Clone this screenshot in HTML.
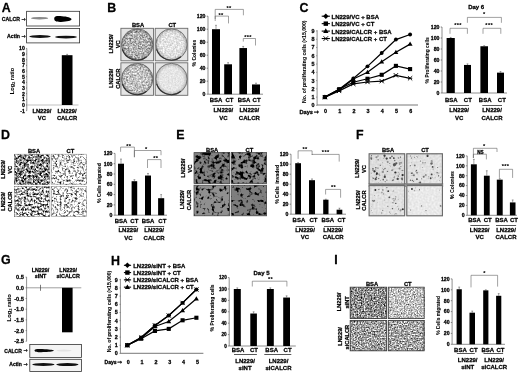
<!DOCTYPE html>
<html><head><meta charset="utf-8"><style>
html,body{margin:0;padding:0;background:#fff;}
svg{display:block;}
text{font-family:'Liberation Sans', Arial, sans-serif;stroke:#000;stroke-width:.26px;stroke-linejoin:round;}
.ar{font-family:'DejaVu Sans',sans-serif;}
</style></head><body>
<svg width="520" height="372" viewBox="0 0 520 372">
<defs><radialGradient id="rimg"><stop offset="0.75" stop-color="#000" stop-opacity="0"/><stop offset="1" stop-color="#000" stop-opacity="0.22"/></radialGradient>
<filter id="bp0" x="0" y="0" width="1" height="1" color-interpolation-filters="sRGB"><feTurbulence type="fractalNoise" baseFrequency="0.6" numOctaves="2" seed="11"/><feColorMatrix type="matrix" values="0.95 0 0 0 0.22 0.95 0 0 0 0.22 0.95 0 0 0 0.22 0 0 0 0 1"/></filter>
<clipPath id="cbp0"><circle cx="137.2" cy="44.55" r="15.7"/></clipPath>
<filter id="bp1" x="0" y="0" width="1" height="1" color-interpolation-filters="sRGB"><feTurbulence type="fractalNoise" baseFrequency="0.6" numOctaves="2" seed="12"/><feColorMatrix type="matrix" values="0.4 0 0 0 0.69 0.4 0 0 0 0.69 0.4 0 0 0 0.69 0 0 0 0 1"/></filter>
<clipPath id="cbp1"><circle cx="171.5" cy="44.55" r="15.7"/></clipPath>
<filter id="bp2" x="0" y="0" width="1" height="1" color-interpolation-filters="sRGB"><feTurbulence type="fractalNoise" baseFrequency="0.6" numOctaves="2" seed="13"/><feColorMatrix type="matrix" values="0.85 0 0 0 0.34 0.85 0 0 0 0.34 0.85 0 0 0 0.34 0 0 0 0 1"/></filter>
<clipPath id="cbp2"><circle cx="137.2" cy="79.05" r="15.7"/></clipPath>
<filter id="bp3" x="0" y="0" width="1" height="1" color-interpolation-filters="sRGB"><feTurbulence type="fractalNoise" baseFrequency="0.6" numOctaves="2" seed="14"/><feColorMatrix type="matrix" values="0.2 0 0 0 0.8 0.2 0 0 0 0.8 0.2 0 0 0 0.8 0 0 0 0 1"/></filter>
<clipPath id="cbp3"><circle cx="171.5" cy="79.05" r="15.7"/></clipPath>
<filter id="dd0" x="0" y="0" width="1" height="1" color-interpolation-filters="sRGB"><feTurbulence type="fractalNoise" baseFrequency="0.45" numOctaves="3" seed="21"/><feColorMatrix type="matrix" values="2.6 0 0 0 -0.76 2.6 0 0 0 -0.76 2.6 0 0 0 -0.76 0 0 0 0 1"/><feComponentTransfer><feFuncR type="linear" slope="1" intercept="0"/><feFuncG type="linear" slope="1" intercept="0"/><feFuncB type="linear" slope="1" intercept="0"/></feComponentTransfer></filter>
<filter id="dd1" x="0" y="0" width="1" height="1" color-interpolation-filters="sRGB"><feTurbulence type="fractalNoise" baseFrequency="0.45" numOctaves="3" seed="22"/><feColorMatrix type="matrix" values="2.6 0 0 0 -0.42 2.6 0 0 0 -0.42 2.6 0 0 0 -0.42 0 0 0 0 1"/><feComponentTransfer><feFuncR type="linear" slope="1" intercept="0"/><feFuncG type="linear" slope="1" intercept="0"/><feFuncB type="linear" slope="1" intercept="0"/></feComponentTransfer></filter>
<filter id="dd2" x="0" y="0" width="1" height="1" color-interpolation-filters="sRGB"><feTurbulence type="fractalNoise" baseFrequency="0.45" numOctaves="3" seed="23"/><feColorMatrix type="matrix" values="2.6 0 0 0 -0.6 2.6 0 0 0 -0.6 2.6 0 0 0 -0.6 0 0 0 0 1"/><feComponentTransfer><feFuncR type="linear" slope="1" intercept="0"/><feFuncG type="linear" slope="1" intercept="0"/><feFuncB type="linear" slope="1" intercept="0"/></feComponentTransfer></filter>
<filter id="dd3" x="0" y="0" width="1" height="1" color-interpolation-filters="sRGB"><feTurbulence type="fractalNoise" baseFrequency="0.45" numOctaves="3" seed="24"/><feColorMatrix type="matrix" values="2.6 0 0 0 -0.41 2.6 0 0 0 -0.41 2.6 0 0 0 -0.41 0 0 0 0 1"/><feComponentTransfer><feFuncR type="linear" slope="1" intercept="0"/><feFuncG type="linear" slope="1" intercept="0"/><feFuncB type="linear" slope="1" intercept="0"/></feComponentTransfer></filter>
<filter id="ee0" x="0" y="0" width="1" height="1" color-interpolation-filters="sRGB"><feTurbulence type="fractalNoise" baseFrequency="0.25" numOctaves="2" seed="31" result="a"/><feColorMatrix in="a" type="matrix" values="5 0 0 0 -1.67 5 0 0 0 -1.67 5 0 0 0 -1.67 0 0 0 0 1" result="m"/><feTurbulence type="fractalNoise" baseFrequency="1.0" numOctaves="2" seed="81" result="b"/><feColorMatrix in="b" type="matrix" values="0.55 0 0 0 0.24 0.55 0 0 0 0.24 0.55 0 0 0 0.24 0 0 0 0 1" result="g"/><feComposite in="m" in2="g" operator="arithmetic" k1="1" k2="0" k3="0" k4="0"/></filter>
<filter id="ee1" x="0" y="0" width="1" height="1" color-interpolation-filters="sRGB"><feTurbulence type="fractalNoise" baseFrequency="0.25" numOctaves="2" seed="32" result="a"/><feColorMatrix in="a" type="matrix" values="5 0 0 0 -1.62 5 0 0 0 -1.62 5 0 0 0 -1.62 0 0 0 0 1" result="m"/><feTurbulence type="fractalNoise" baseFrequency="1.0" numOctaves="2" seed="82" result="b"/><feColorMatrix in="b" type="matrix" values="0.55 0 0 0 0.28 0.55 0 0 0 0.28 0.55 0 0 0 0.28 0 0 0 0 1" result="g"/><feComposite in="m" in2="g" operator="arithmetic" k1="1" k2="0" k3="0" k4="0"/></filter>
<filter id="ee2" x="0" y="0" width="1" height="1" color-interpolation-filters="sRGB"><feTurbulence type="fractalNoise" baseFrequency="0.25" numOctaves="2" seed="33" result="a"/><feColorMatrix in="a" type="matrix" values="5 0 0 0 -1.35 5 0 0 0 -1.35 5 0 0 0 -1.35 0 0 0 0 1" result="m"/><feTurbulence type="fractalNoise" baseFrequency="1.0" numOctaves="2" seed="83" result="b"/><feColorMatrix in="b" type="matrix" values="0.55 0 0 0 0.29 0.55 0 0 0 0.29 0.55 0 0 0 0.29 0 0 0 0 1" result="g"/><feComposite in="m" in2="g" operator="arithmetic" k1="1" k2="0" k3="0" k4="0"/></filter>
<filter id="ee3" x="0" y="0" width="1" height="1" color-interpolation-filters="sRGB"><feTurbulence type="fractalNoise" baseFrequency="0.25" numOctaves="2" seed="34" result="a"/><feColorMatrix in="a" type="matrix" values="5 0 0 0 -1.3 5 0 0 0 -1.3 5 0 0 0 -1.3 0 0 0 0 1" result="m"/><feTurbulence type="fractalNoise" baseFrequency="1.0" numOctaves="2" seed="84" result="b"/><feColorMatrix in="b" type="matrix" values="0.55 0 0 0 0.22 0.55 0 0 0 0.22 0.55 0 0 0 0.22 0 0 0 0 1" result="g"/><feComposite in="m" in2="g" operator="arithmetic" k1="1" k2="0" k3="0" k4="0"/></filter>
<filter id="ff0" x="0" y="0" width="1" height="1" color-interpolation-filters="sRGB"><feTurbulence type="fractalNoise" baseFrequency="0.5" numOctaves="2" seed="41"/><feColorMatrix type="matrix" values="0.15 0 0 0 0.79 0.15 0 0 0 0.79 0.15 0 0 0 0.79 0 0 0 0 1"/></filter>
<filter id="ff1" x="0" y="0" width="1" height="1" color-interpolation-filters="sRGB"><feTurbulence type="fractalNoise" baseFrequency="0.5" numOctaves="2" seed="42"/><feColorMatrix type="matrix" values="0.15 0 0 0 0.81 0.15 0 0 0 0.81 0.15 0 0 0 0.81 0 0 0 0 1"/></filter>
<filter id="ff2" x="0" y="0" width="1" height="1" color-interpolation-filters="sRGB"><feTurbulence type="fractalNoise" baseFrequency="0.5" numOctaves="2" seed="43"/><feColorMatrix type="matrix" values="0.15 0 0 0 0.81 0.15 0 0 0 0.81 0.15 0 0 0 0.81 0 0 0 0 1"/></filter>
<filter id="ff3" x="0" y="0" width="1" height="1" color-interpolation-filters="sRGB"><feTurbulence type="fractalNoise" baseFrequency="0.5" numOctaves="2" seed="44"/><feColorMatrix type="matrix" values="0.15 0 0 0 0.84 0.15 0 0 0 0.84 0.15 0 0 0 0.84 0 0 0 0 1"/></filter>
<filter id="ii0" x="0" y="0" width="1" height="1" color-interpolation-filters="sRGB"><feTurbulence type="fractalNoise" baseFrequency="0.7" numOctaves="2" seed="61"/><feColorMatrix type="matrix" values="1.6 0 0 0 -0.24 1.6 0 0 0 -0.24 1.6 0 0 0 -0.24 0 0 0 0 1"/></filter>
<filter id="ii1" x="0" y="0" width="1" height="1" color-interpolation-filters="sRGB"><feTurbulence type="fractalNoise" baseFrequency="0.7" numOctaves="2" seed="62"/><feColorMatrix type="matrix" values="1.3 0 0 0 0.11 1.3 0 0 0 0.11 1.3 0 0 0 0.11 0 0 0 0 1"/></filter>
<filter id="ii2" x="0" y="0" width="1" height="1" color-interpolation-filters="sRGB"><feTurbulence type="fractalNoise" baseFrequency="0.7" numOctaves="2" seed="63"/><feColorMatrix type="matrix" values="1.5 0 0 0 -0.12 1.5 0 0 0 -0.12 1.5 0 0 0 -0.12 0 0 0 0 1"/></filter>
<filter id="ii3" x="0" y="0" width="1" height="1" color-interpolation-filters="sRGB"><feTurbulence type="fractalNoise" baseFrequency="0.7" numOctaves="2" seed="64"/><feColorMatrix type="matrix" values="1.5 0 0 0 -0.1 1.5 0 0 0 -0.1 1.5 0 0 0 -0.1 0 0 0 0 1"/></filter></defs>
<rect width="520" height="372" fill="#fff"/>
<text x="1.7" y="11.7" font-size="12.4" text-anchor="start" font-weight="bold" fill="#000">A</text>
<text x="107.3" y="11.6" font-size="12.4" text-anchor="start" font-weight="bold" fill="#000">B</text>
<text x="299.6" y="11.9" font-size="12.4" text-anchor="start" font-weight="bold" fill="#000">C</text>
<text x="1.1" y="139.1" font-size="12.4" text-anchor="start" font-weight="bold" fill="#000">D</text>
<text x="176.3" y="139.2" font-size="12.4" text-anchor="start" font-weight="bold" fill="#000">E</text>
<text x="356" y="139.4" font-size="12.4" text-anchor="start" font-weight="bold" fill="#000">F</text>
<text x="0.9" y="264.2" font-size="12.4" text-anchor="start" font-weight="bold" fill="#000">G</text>
<text x="111" y="264.6" font-size="12.4" text-anchor="start" font-weight="bold" fill="#000">H</text>
<text x="334.3" y="264.3" font-size="12.4" text-anchor="start" font-weight="bold" fill="#000">I</text>
<rect x="26.6" y="11.3" width="53" height="14.7" fill="#fff" stroke="#333" stroke-width="0.8"/>
<rect x="26.6" y="28.4" width="53" height="14.5" fill="#fbfbfb" stroke="#333" stroke-width="0.8"/>
<text x="20" y="21.2" font-size="5.2" text-anchor="end" font-weight="bold" fill="#000">CALCR</text>
<text x="20" y="38" font-size="5.2" text-anchor="end" font-weight="bold" fill="#000">Actin</text>
<text x="23.5" y="21" font-size="5" text-anchor="middle" font-weight="bold" fill="#000" class="ar">→</text>
<text x="23.5" y="37.8" font-size="5" text-anchor="middle" font-weight="bold" fill="#000" class="ar">→</text>
<ellipse cx="39.6" cy="18.2" rx="8.6" ry="1.3" fill="#8a8a8a"/>
<path d="M54.2 18.6 C54.2 15.6 58 16.0 62 16.2 C67 16.5 71.5 17.6 71.5 19.2 C71.5 20.6 67 21.6 61 21.9 C56 22.0 54.2 21.2 54.2 18.6Z" fill="#000"/>
<ellipse cx="40" cy="36.5" rx="10.8" ry="1.4" fill="#111"/>
<ellipse cx="66" cy="37.1" rx="11" ry="1.4" fill="#111"/>
<line x1="26.8" y1="48.4" x2="26.8" y2="110.66" stroke="#444" stroke-width="0.6"/>
<line x1="26" y1="110.66" x2="26.8" y2="110.66" stroke="#444" stroke-width="0.6"/>
<text x="24.8" y="112.53" font-size="5.2" text-anchor="end" font-weight="bold" fill="#000">-1</text>
<line x1="26" y1="105" x2="26.8" y2="105" stroke="#444" stroke-width="0.6"/>
<text x="24.8" y="106.87" font-size="5.2" text-anchor="end" font-weight="bold" fill="#000">0</text>
<line x1="26" y1="99.34" x2="26.8" y2="99.34" stroke="#444" stroke-width="0.6"/>
<text x="24.8" y="101.21" font-size="5.2" text-anchor="end" font-weight="bold" fill="#000">1</text>
<line x1="26" y1="93.68" x2="26.8" y2="93.68" stroke="#444" stroke-width="0.6"/>
<text x="24.8" y="95.55" font-size="5.2" text-anchor="end" font-weight="bold" fill="#000">2</text>
<line x1="26" y1="88.02" x2="26.8" y2="88.02" stroke="#444" stroke-width="0.6"/>
<text x="24.8" y="89.89" font-size="5.2" text-anchor="end" font-weight="bold" fill="#000">3</text>
<line x1="26" y1="82.36" x2="26.8" y2="82.36" stroke="#444" stroke-width="0.6"/>
<text x="24.8" y="84.23" font-size="5.2" text-anchor="end" font-weight="bold" fill="#000">4</text>
<line x1="26" y1="76.7" x2="26.8" y2="76.7" stroke="#444" stroke-width="0.6"/>
<text x="24.8" y="78.57" font-size="5.2" text-anchor="end" font-weight="bold" fill="#000">5</text>
<line x1="26" y1="71.04" x2="26.8" y2="71.04" stroke="#444" stroke-width="0.6"/>
<text x="24.8" y="72.91" font-size="5.2" text-anchor="end" font-weight="bold" fill="#000">6</text>
<line x1="26" y1="65.38" x2="26.8" y2="65.38" stroke="#444" stroke-width="0.6"/>
<text x="24.8" y="67.25" font-size="5.2" text-anchor="end" font-weight="bold" fill="#000">7</text>
<line x1="26" y1="59.72" x2="26.8" y2="59.72" stroke="#444" stroke-width="0.6"/>
<text x="24.8" y="61.59" font-size="5.2" text-anchor="end" font-weight="bold" fill="#000">8</text>
<line x1="26" y1="54.06" x2="26.8" y2="54.06" stroke="#444" stroke-width="0.6"/>
<text x="24.8" y="55.93" font-size="5.2" text-anchor="end" font-weight="bold" fill="#000">9</text>
<line x1="26" y1="48.4" x2="26.8" y2="48.4" stroke="#444" stroke-width="0.6"/>
<text x="24.8" y="50.27" font-size="5.2" text-anchor="end" font-weight="bold" fill="#000">10</text>
<line x1="26.8" y1="105" x2="78.5" y2="105" stroke="#999" stroke-width="0.6"/>
<rect x="61.8" y="55.19" width="10.7" height="49.81" fill="#000"/>
<line x1="67.15" y1="55.19" x2="67.15" y2="54.34" stroke="#333" stroke-width="0.45"/>
<line x1="66.25" y1="54.34" x2="68.05" y2="54.34" stroke="#333" stroke-width="0.45"/>
<text x="14.05" y="81" font-size="5.7" text-anchor="middle" font-weight="bold" fill="#000" transform="rotate(-90 14.05 81)" style="stroke-width:.08px">Log<tspan font-size="3.6" dy="1.2">2</tspan><tspan dy="-1.2"> ratio</tspan></text>
<text x="41.9" y="112.5" font-size="5.8" text-anchor="middle" font-weight="bold" fill="#000">LN229/</text>
<text x="41.9" y="119.6" font-size="5.8" text-anchor="middle" font-weight="bold" fill="#000">VC</text>
<text x="67.1" y="112.5" font-size="5.8" text-anchor="middle" font-weight="bold" fill="#000">LN229/</text>
<text x="67.1" y="119.6" font-size="5.8" text-anchor="middle" font-weight="bold" fill="#000">CALCR</text>
<rect x="120.9" y="28.3" width="32.6" height="32.5" fill="#e4e4e4" stroke="#6a6a6a" stroke-width="0.9"/>
<rect x="121.5" y="28.85" width="31.4" height="31.4" filter="url(#bp0)" clip-path="url(#cbp0)"/>
<circle cx="137.2" cy="44.55" r="15.7" fill="url(#rimg)"/>
<circle cx="137.2" cy="44.55" r="15.7" fill="none" stroke="#555" stroke-width="0.7"/>
<path d="M122.29 49.26 A15.4 15.4 0 0 0 146.62 56.8" fill="none" stroke="#333" stroke-width="1.1"/>
<rect x="155.2" y="28.3" width="32.6" height="32.5" fill="#e4e4e4" stroke="#6a6a6a" stroke-width="0.9"/>
<rect x="155.8" y="28.85" width="31.4" height="31.4" filter="url(#bp1)" clip-path="url(#cbp1)"/>
<circle cx="171.5" cy="44.55" r="15.7" fill="url(#rimg)"/>
<circle cx="171.5" cy="44.55" r="15.7" fill="none" stroke="#555" stroke-width="0.7"/>
<path d="M156.59 49.26 A15.4 15.4 0 0 0 180.92 56.8" fill="none" stroke="#333" stroke-width="1.1"/>
<rect x="120.9" y="62.8" width="32.6" height="32.5" fill="#e4e4e4" stroke="#6a6a6a" stroke-width="0.9"/>
<rect x="121.5" y="63.35" width="31.4" height="31.4" filter="url(#bp2)" clip-path="url(#cbp2)"/>
<circle cx="137.2" cy="79.05" r="15.7" fill="url(#rimg)"/>
<circle cx="137.2" cy="79.05" r="15.7" fill="none" stroke="#555" stroke-width="0.7"/>
<path d="M122.29 83.76 A15.4 15.4 0 0 0 146.62 91.3" fill="none" stroke="#333" stroke-width="1.1"/>
<rect x="155.2" y="62.8" width="32.6" height="32.5" fill="#e4e4e4" stroke="#6a6a6a" stroke-width="0.9"/>
<rect x="155.8" y="63.35" width="31.4" height="31.4" filter="url(#bp3)" clip-path="url(#cbp3)"/>
<circle cx="171.5" cy="79.05" r="15.7" fill="url(#rimg)"/>
<circle cx="171.5" cy="79.05" r="15.7" fill="none" stroke="#555" stroke-width="0.7"/>
<path d="M156.59 83.76 A15.4 15.4 0 0 0 180.92 91.3" fill="none" stroke="#333" stroke-width="1.1"/>
<text x="112.79" y="44" font-size="5.8" text-anchor="middle" font-weight="bold" fill="#000" transform="rotate(-90 112.79 44)">LN229/</text>
<text x="119.79" y="44.3" font-size="5.8" text-anchor="middle" font-weight="bold" fill="#000" transform="rotate(-90 119.79 44.3)">VC</text>
<text x="112.99" y="78.4" font-size="5.8" text-anchor="middle" font-weight="bold" fill="#000" transform="rotate(-90 112.99 78.4)">LN229/</text>
<text x="119.79" y="78.7" font-size="5.8" text-anchor="middle" font-weight="bold" fill="#000" transform="rotate(-90 119.79 78.7)">CALCR</text>
<line x1="208" y1="16.2" x2="208" y2="94.2" stroke="#444" stroke-width="0.6"/>
<line x1="206.7" y1="94.2" x2="208" y2="94.2" stroke="#444" stroke-width="0.6"/>
<text x="205.5" y="96.07" font-size="5.2" text-anchor="end" font-weight="bold" fill="#000">0</text>
<line x1="206.7" y1="81.2" x2="208" y2="81.2" stroke="#444" stroke-width="0.6"/>
<text x="205.5" y="83.07" font-size="5.2" text-anchor="end" font-weight="bold" fill="#000">20</text>
<line x1="206.7" y1="68.2" x2="208" y2="68.2" stroke="#444" stroke-width="0.6"/>
<text x="205.5" y="70.07" font-size="5.2" text-anchor="end" font-weight="bold" fill="#000">40</text>
<line x1="206.7" y1="55.2" x2="208" y2="55.2" stroke="#444" stroke-width="0.6"/>
<text x="205.5" y="57.07" font-size="5.2" text-anchor="end" font-weight="bold" fill="#000">60</text>
<line x1="206.7" y1="42.2" x2="208" y2="42.2" stroke="#444" stroke-width="0.6"/>
<text x="205.5" y="44.07" font-size="5.2" text-anchor="end" font-weight="bold" fill="#000">80</text>
<line x1="206.7" y1="29.2" x2="208" y2="29.2" stroke="#444" stroke-width="0.6"/>
<text x="205.5" y="31.07" font-size="5.2" text-anchor="end" font-weight="bold" fill="#000">100</text>
<line x1="206.7" y1="16.2" x2="208" y2="16.2" stroke="#444" stroke-width="0.6"/>
<text x="205.5" y="18.07" font-size="5.2" text-anchor="end" font-weight="bold" fill="#000">120</text>
<line x1="208" y1="94.2" x2="263" y2="94.2" stroke="#444" stroke-width="0.6"/>
<rect x="212" y="29.2" width="8" height="65" fill="#000"/>
<line x1="216" y1="29.2" x2="216" y2="25.3" stroke="#333" stroke-width="0.45"/>
<line x1="215.1" y1="25.3" x2="216.9" y2="25.3" stroke="#333" stroke-width="0.45"/>
<rect x="224.2" y="64.3" width="7.8" height="29.9" fill="#000"/>
<line x1="228.1" y1="64.3" x2="228.1" y2="62.67" stroke="#333" stroke-width="0.45"/>
<line x1="227.2" y1="62.67" x2="229" y2="62.67" stroke="#333" stroke-width="0.45"/>
<rect x="239.4" y="48.05" width="7.6" height="46.15" fill="#000"/>
<line x1="243.2" y1="48.05" x2="243.2" y2="46.43" stroke="#333" stroke-width="0.45"/>
<line x1="242.3" y1="46.43" x2="244.1" y2="46.43" stroke="#333" stroke-width="0.45"/>
<rect x="252" y="84.45" width="8" height="9.75" fill="#000"/>
<line x1="256" y1="84.45" x2="256" y2="83.15" stroke="#333" stroke-width="0.45"/>
<line x1="255.1" y1="83.15" x2="256.9" y2="83.15" stroke="#333" stroke-width="0.45"/>
<text x="195.86" y="53" font-size="4.9" text-anchor="middle" font-weight="bold" fill="#000" transform="rotate(-90 195.86 53)" style="stroke-width:.08px">% Colonies</text>
<text x="216" y="102.3" font-size="6" text-anchor="middle" font-weight="bold" fill="#000">BSA</text>
<text x="229.4" y="102.3" font-size="6" text-anchor="middle" font-weight="bold" fill="#000">CT</text>
<text x="244" y="102.3" font-size="6" text-anchor="middle" font-weight="bold" fill="#000">BSA</text>
<text x="256.6" y="102.3" font-size="6" text-anchor="middle" font-weight="bold" fill="#000">CT</text>
<line x1="212.5" y1="105.5" x2="232.7" y2="105.5" stroke="#444" stroke-width="0.9"/>
<line x1="239.6" y1="105.5" x2="260.4" y2="105.5" stroke="#444" stroke-width="0.9"/>
<text x="223.3" y="112.1" font-size="6" text-anchor="middle" font-weight="bold" fill="#000">LN229/</text>
<text x="223.3" y="119.6" font-size="6" text-anchor="middle" font-weight="bold" fill="#000">VC</text>
<text x="249.3" y="112.1" font-size="6" text-anchor="middle" font-weight="bold" fill="#000">LN229/</text>
<text x="249.3" y="119.6" font-size="6" text-anchor="middle" font-weight="bold" fill="#000">CALCR</text>
<path d="M215.2 21V9.4H243.4V15.3" fill="none" stroke="#555" stroke-width="0.55"/>
<text x="229.1" y="10.21" font-size="5.6" text-anchor="middle" font-weight="bold" fill="#000" style="stroke-width:.12px;letter-spacing:.4px">**</text>
<path d="M215.2 19V16.1H228.5V23.4" fill="none" stroke="#555" stroke-width="0.55"/>
<text x="221" y="17.01" font-size="5.6" text-anchor="middle" font-weight="bold" fill="#000" style="stroke-width:.12px;letter-spacing:.4px">**</text>
<path d="M243.3 41.6V38.5H255.5V45.5" fill="none" stroke="#555" stroke-width="0.55"/>
<text x="248.1" y="39.01" font-size="5.6" text-anchor="middle" font-weight="bold" fill="#000" style="stroke-width:.12px;letter-spacing:.4px">***</text>
<line x1="317.1" y1="30.14" x2="317.1" y2="105.4" stroke="#444" stroke-width="0.6"/>
<line x1="316.3" y1="105.4" x2="317.1" y2="105.4" stroke="#444" stroke-width="0.6"/>
<text x="314.5" y="107.34" font-size="5.4" text-anchor="end" font-weight="bold" fill="#000">0</text>
<line x1="316.3" y1="97.13" x2="317.1" y2="97.13" stroke="#444" stroke-width="0.6"/>
<text x="314.5" y="99.07" font-size="5.4" text-anchor="end" font-weight="bold" fill="#000">1</text>
<line x1="316.3" y1="88.86" x2="317.1" y2="88.86" stroke="#444" stroke-width="0.6"/>
<text x="314.5" y="90.8" font-size="5.4" text-anchor="end" font-weight="bold" fill="#000">2</text>
<line x1="316.3" y1="80.59" x2="317.1" y2="80.59" stroke="#444" stroke-width="0.6"/>
<text x="314.5" y="82.53" font-size="5.4" text-anchor="end" font-weight="bold" fill="#000">3</text>
<line x1="316.3" y1="72.32" x2="317.1" y2="72.32" stroke="#444" stroke-width="0.6"/>
<text x="314.5" y="74.26" font-size="5.4" text-anchor="end" font-weight="bold" fill="#000">4</text>
<line x1="316.3" y1="64.05" x2="317.1" y2="64.05" stroke="#444" stroke-width="0.6"/>
<text x="314.5" y="65.99" font-size="5.4" text-anchor="end" font-weight="bold" fill="#000">5</text>
<line x1="316.3" y1="55.78" x2="317.1" y2="55.78" stroke="#444" stroke-width="0.6"/>
<text x="314.5" y="57.72" font-size="5.4" text-anchor="end" font-weight="bold" fill="#000">6</text>
<line x1="316.3" y1="47.51" x2="317.1" y2="47.51" stroke="#444" stroke-width="0.6"/>
<text x="314.5" y="49.45" font-size="5.4" text-anchor="end" font-weight="bold" fill="#000">7</text>
<line x1="316.3" y1="39.24" x2="317.1" y2="39.24" stroke="#444" stroke-width="0.6"/>
<text x="314.5" y="41.18" font-size="5.4" text-anchor="end" font-weight="bold" fill="#000">8</text>
<line x1="316.3" y1="30.97" x2="317.1" y2="30.97" stroke="#444" stroke-width="0.6"/>
<text x="314.5" y="32.91" font-size="5.4" text-anchor="end" font-weight="bold" fill="#000">9</text>
<line x1="317.1" y1="105" x2="418" y2="105" stroke="#555" stroke-width="0.8"/>
<text x="325.5" y="113.4" font-size="5.4" text-anchor="middle" font-weight="bold" fill="#000">0</text>
<text x="339.7" y="113.4" font-size="5.4" text-anchor="middle" font-weight="bold" fill="#000">1</text>
<text x="353.9" y="113.4" font-size="5.4" text-anchor="middle" font-weight="bold" fill="#000">2</text>
<text x="368.1" y="113.4" font-size="5.4" text-anchor="middle" font-weight="bold" fill="#000">3</text>
<text x="382.3" y="113.4" font-size="5.4" text-anchor="middle" font-weight="bold" fill="#000">4</text>
<text x="396.5" y="113.4" font-size="5.4" text-anchor="middle" font-weight="bold" fill="#000">5</text>
<text x="410.7" y="113.4" font-size="5.4" text-anchor="middle" font-weight="bold" fill="#000">6</text>
<text x="313" y="113.6" font-size="5.7" text-anchor="end" font-weight="bold" fill="#000">Days</text>
<text x="316.3" y="114.1" font-size="6.2" text-anchor="middle" font-weight="bold" fill="#000" class="ar">→</text>
<text x="306.15" y="61.7" font-size="5.15" text-anchor="middle" font-weight="bold" fill="#000" transform="rotate(-90 306.15 61.7)" style="stroke-width:.08px">No. of proliferating cells (×15,000)</text>
<polyline points="324.9,97.13 339.1,89.27 353.3,78.52 367.5,66.37 381.7,52.97 395.9,39.57 410.1,34.53" fill="none" stroke="#000" stroke-width="1.25"/>
<circle cx="324.9" cy="97.13" r="1.95"/>
<circle cx="339.1" cy="89.27" r="1.95"/>
<circle cx="353.3" cy="78.52" r="1.95"/>
<circle cx="367.5" cy="66.37" r="1.95"/>
<circle cx="381.7" cy="52.97" r="1.95"/>
<circle cx="395.9" cy="39.57" r="1.95"/>
<circle cx="410.1" cy="34.53" r="1.95"/>
<polyline points="324.9,97.13 339.1,90.1 353.3,78.94 367.5,72.32 381.7,61.82 395.9,52.22 410.1,44.12" fill="none" stroke="#000" stroke-width="1.25"/>
<path d="M324.9 94.6L327.34 98.89L322.46 98.89Z"/>
<path d="M339.1 87.57L341.54 91.86L336.66 91.86Z"/>
<path d="M353.3 76.4L355.74 80.69L350.86 80.69Z"/>
<path d="M367.5 69.79L369.94 74.08L365.06 74.08Z"/>
<path d="M381.7 59.28L384.14 63.57L379.26 63.57Z"/>
<path d="M395.9 49.69L398.34 53.98L393.46 53.98Z"/>
<path d="M410.1 41.58L412.54 45.87L407.66 45.87Z"/>
<polyline points="324.9,97.13 339.1,89.27 353.3,82.24 367.5,78.77 381.7,74.8 395.9,65.87 410.1,69.09" fill="none" stroke="#000" stroke-width="1.25"/>
<rect x="322.85" y="95.08" width="4.09" height="4.09" fill="#000"/>
<rect x="337.05" y="87.23" width="4.09" height="4.09" fill="#000"/>
<rect x="351.25" y="80.2" width="4.09" height="4.09" fill="#000"/>
<rect x="365.45" y="76.72" width="4.09" height="4.09" fill="#000"/>
<rect x="379.65" y="72.75" width="4.09" height="4.09" fill="#000"/>
<rect x="393.85" y="63.82" width="4.09" height="4.09" fill="#000"/>
<rect x="408.05" y="67.05" width="4.09" height="4.09" fill="#000"/>
<polyline points="324.9,97.13 339.1,90.93 353.3,83.9 367.5,82 381.7,81.17 395.9,75.3 410.1,78.27" fill="none" stroke="#000" stroke-width="1.25"/>
<path d="M322.75 94.99L327.04 99.28M322.75 99.28L327.04 94.99M322.75 97.13L327.04 97.13" fill="none" stroke="#000" stroke-width="0.95"/>
<path d="M336.95 88.78L341.24 93.07M336.95 93.07L341.24 88.78M336.95 90.93L341.24 90.93" fill="none" stroke="#000" stroke-width="0.95"/>
<path d="M351.15 81.75L355.44 86.04M351.15 86.04L355.44 81.75M351.15 83.9L355.44 83.9" fill="none" stroke="#000" stroke-width="0.95"/>
<path d="M365.36 79.85L369.64 84.14M365.36 84.14L369.64 79.85M365.36 82L369.64 82" fill="none" stroke="#000" stroke-width="0.95"/>
<path d="M379.56 79.02L383.84 83.31M379.56 83.31L383.84 79.02M379.56 81.17L383.84 81.17" fill="none" stroke="#000" stroke-width="0.95"/>
<path d="M393.75 73.15L398.04 77.44M393.75 77.44L398.04 73.15M393.75 75.3L398.04 75.3" fill="none" stroke="#000" stroke-width="0.95"/>
<path d="M407.95 76.13L412.24 80.42M407.95 80.42L412.24 76.13M407.95 78.27L412.24 78.27" fill="none" stroke="#000" stroke-width="0.95"/>
<line x1="321.7" y1="16.2" x2="329.9" y2="16.2" stroke="#000" stroke-width="1.1"/>
<path d="M325.8 13.47L328.53 16.2L325.8 18.93L323.07 16.2Z"/>
<text x="331.5" y="18.6" font-size="6" text-anchor="start" font-weight="bold" fill="#000">LN229/VC + BSA</text>
<line x1="321.7" y1="23.65" x2="329.9" y2="23.65" stroke="#000" stroke-width="1.1"/>
<rect x="323.6" y="21.45" width="4.41" height="4.41" fill="#000"/>
<text x="331.5" y="26.05" font-size="6" text-anchor="start" font-weight="bold" fill="#000">LN229/VC + CT</text>
<line x1="321.7" y1="31.1" x2="329.9" y2="31.1" stroke="#000" stroke-width="1.1"/>
<path d="M325.8 28.37L328.43 32.99L323.18 32.99Z"/>
<text x="331.5" y="33.5" font-size="6" text-anchor="start" font-weight="bold" fill="#000">LN229/CALCR + BSA</text>
<line x1="321.7" y1="38.55" x2="329.9" y2="38.55" stroke="#000" stroke-width="1.1"/>
<path d="M323.49 36.24L328.11 40.86M323.49 40.86L328.11 36.24M323.49 38.55L328.11 38.55" fill="none" stroke="#000" stroke-width="0.95"/>
<text x="331.5" y="40.95" font-size="6" text-anchor="start" font-weight="bold" fill="#000">LN229/CALCR + CT</text>
<line x1="442" y1="27" x2="442" y2="93" stroke="#444" stroke-width="0.6"/>
<line x1="440.7" y1="93" x2="442" y2="93" stroke="#444" stroke-width="0.6"/>
<text x="439.5" y="94.87" font-size="5.2" text-anchor="end" font-weight="bold" fill="#000">0</text>
<line x1="440.7" y1="82" x2="442" y2="82" stroke="#444" stroke-width="0.6"/>
<text x="439.5" y="83.87" font-size="5.2" text-anchor="end" font-weight="bold" fill="#000">20</text>
<line x1="440.7" y1="71" x2="442" y2="71" stroke="#444" stroke-width="0.6"/>
<text x="439.5" y="72.87" font-size="5.2" text-anchor="end" font-weight="bold" fill="#000">40</text>
<line x1="440.7" y1="60" x2="442" y2="60" stroke="#444" stroke-width="0.6"/>
<text x="439.5" y="61.87" font-size="5.2" text-anchor="end" font-weight="bold" fill="#000">60</text>
<line x1="440.7" y1="49" x2="442" y2="49" stroke="#444" stroke-width="0.6"/>
<text x="439.5" y="50.87" font-size="5.2" text-anchor="end" font-weight="bold" fill="#000">80</text>
<line x1="440.7" y1="38" x2="442" y2="38" stroke="#444" stroke-width="0.6"/>
<text x="439.5" y="39.87" font-size="5.2" text-anchor="end" font-weight="bold" fill="#000">100</text>
<line x1="440.7" y1="27" x2="442" y2="27" stroke="#444" stroke-width="0.6"/>
<text x="439.5" y="28.87" font-size="5.2" text-anchor="end" font-weight="bold" fill="#000">120</text>
<line x1="442" y1="93" x2="507" y2="93" stroke="#444" stroke-width="0.6"/>
<rect x="446.6" y="38" width="8.2" height="55" fill="#000"/>
<line x1="450.7" y1="38" x2="450.7" y2="37.45" stroke="#333" stroke-width="0.45"/>
<line x1="449.8" y1="37.45" x2="451.6" y2="37.45" stroke="#333" stroke-width="0.45"/>
<rect x="464" y="64.95" width="7" height="28.05" fill="#000"/>
<line x1="467.5" y1="64.95" x2="467.5" y2="63.85" stroke="#333" stroke-width="0.45"/>
<line x1="466.6" y1="63.85" x2="468.4" y2="63.85" stroke="#333" stroke-width="0.45"/>
<rect x="480.4" y="46.25" width="7.6" height="46.75" fill="#000"/>
<line x1="484.2" y1="46.25" x2="484.2" y2="45.7" stroke="#333" stroke-width="0.45"/>
<line x1="483.3" y1="45.7" x2="485.1" y2="45.7" stroke="#333" stroke-width="0.45"/>
<rect x="497" y="72.65" width="7" height="20.35" fill="#000"/>
<line x1="500.5" y1="72.65" x2="500.5" y2="71.55" stroke="#333" stroke-width="0.45"/>
<line x1="499.6" y1="71.55" x2="501.4" y2="71.55" stroke="#333" stroke-width="0.45"/>
<text x="476.2" y="9.4" font-size="6" text-anchor="middle" font-weight="bold" fill="#000">Day 6</text>
<path d="M467.4 22.8V17.4H501.4V22.8" fill="none" stroke="#555" stroke-width="0.55"/>
<text x="484.3" y="15.51" font-size="5.6" text-anchor="middle" font-weight="bold" fill="#000" style="stroke-width:.12px;letter-spacing:.4px">*</text>
<path d="M450 33.8V28.3H467.4V33.8" fill="none" stroke="#555" stroke-width="0.55"/>
<text x="458.1" y="26.61" font-size="5.6" text-anchor="middle" font-weight="bold" fill="#000" style="stroke-width:.12px;letter-spacing:.4px">***</text>
<path d="M483 33.8V28.3H500.8V33.8" fill="none" stroke="#555" stroke-width="0.55"/>
<text x="489.2" y="26.61" font-size="5.6" text-anchor="middle" font-weight="bold" fill="#000" style="stroke-width:.12px;letter-spacing:.4px">***</text>
<text x="428.53" y="60.2" font-size="4.8" text-anchor="middle" font-weight="bold" fill="#000" transform="rotate(-90 428.53 60.2)" style="stroke-width:.08px">% Proliferating cells</text>
<text x="451.3" y="102.2" font-size="6" text-anchor="middle" font-weight="bold" fill="#000">BSA</text>
<text x="467.8" y="102.2" font-size="6" text-anchor="middle" font-weight="bold" fill="#000">CT</text>
<text x="485.2" y="102.2" font-size="6" text-anchor="middle" font-weight="bold" fill="#000">BSA</text>
<text x="501.8" y="102.2" font-size="6" text-anchor="middle" font-weight="bold" fill="#000">CT</text>
<line x1="449.3" y1="105.5" x2="469" y2="105.5" stroke="#444" stroke-width="0.9"/>
<line x1="482.3" y1="105.5" x2="502" y2="105.5" stroke="#444" stroke-width="0.9"/>
<text x="459.2" y="112.4" font-size="6" text-anchor="middle" font-weight="bold" fill="#000">LN229/</text>
<text x="459.2" y="119.8" font-size="6" text-anchor="middle" font-weight="bold" fill="#000">VC</text>
<text x="492" y="112.4" font-size="6" text-anchor="middle" font-weight="bold" fill="#000">LN229/</text>
<text x="492" y="119.8" font-size="6" text-anchor="middle" font-weight="bold" fill="#000">CALCR</text>
<rect x="14.8" y="154.2" width="35.1" height="30" filter="url(#dd0)"/>
<rect x="14.8" y="154.2" width="35.1" height="30" fill="none" stroke="#999" stroke-width="0.6"/>
<rect x="51.5" y="154.2" width="35.1" height="30" filter="url(#dd1)"/>
<rect x="51.5" y="154.2" width="35.1" height="30" fill="none" stroke="#999" stroke-width="0.6"/>
<rect x="14.8" y="186.6" width="35.1" height="30" filter="url(#dd2)"/>
<rect x="14.8" y="186.6" width="35.1" height="30" fill="none" stroke="#999" stroke-width="0.6"/>
<rect x="51.5" y="186.6" width="35.1" height="30" filter="url(#dd3)"/>
<rect x="51.5" y="186.6" width="35.1" height="30" fill="none" stroke="#999" stroke-width="0.6"/>
<text x="4.65" y="169.4" font-size="5.7" text-anchor="middle" font-weight="bold" fill="#000" transform="rotate(-90 4.65 169.4)">LN229/</text>
<text x="11.75" y="169.8" font-size="5.7" text-anchor="middle" font-weight="bold" fill="#000" transform="rotate(-90 11.75 169.8)">VC</text>
<text x="5.05" y="201.4" font-size="5.7" text-anchor="middle" font-weight="bold" fill="#000" transform="rotate(-90 5.05 201.4)">LN229/</text>
<text x="12.05" y="201.6" font-size="5.7" text-anchor="middle" font-weight="bold" fill="#000" transform="rotate(-90 12.05 201.6)">CALCR</text>
<line x1="115" y1="153.4" x2="115" y2="215.2" stroke="#444" stroke-width="0.6"/>
<line x1="113.7" y1="215.2" x2="115" y2="215.2" stroke="#444" stroke-width="0.6"/>
<text x="112.5" y="217.07" font-size="5.2" text-anchor="end" font-weight="bold" fill="#000">0</text>
<line x1="113.7" y1="204.9" x2="115" y2="204.9" stroke="#444" stroke-width="0.6"/>
<text x="112.5" y="206.77" font-size="5.2" text-anchor="end" font-weight="bold" fill="#000">20</text>
<line x1="113.7" y1="194.6" x2="115" y2="194.6" stroke="#444" stroke-width="0.6"/>
<text x="112.5" y="196.47" font-size="5.2" text-anchor="end" font-weight="bold" fill="#000">40</text>
<line x1="113.7" y1="184.3" x2="115" y2="184.3" stroke="#444" stroke-width="0.6"/>
<text x="112.5" y="186.17" font-size="5.2" text-anchor="end" font-weight="bold" fill="#000">60</text>
<line x1="113.7" y1="174" x2="115" y2="174" stroke="#444" stroke-width="0.6"/>
<text x="112.5" y="175.87" font-size="5.2" text-anchor="end" font-weight="bold" fill="#000">80</text>
<line x1="113.7" y1="163.7" x2="115" y2="163.7" stroke="#444" stroke-width="0.6"/>
<text x="112.5" y="165.57" font-size="5.2" text-anchor="end" font-weight="bold" fill="#000">100</text>
<line x1="113.7" y1="153.4" x2="115" y2="153.4" stroke="#444" stroke-width="0.6"/>
<text x="112.5" y="155.27" font-size="5.2" text-anchor="end" font-weight="bold" fill="#000">120</text>
<line x1="115" y1="215.2" x2="167" y2="215.2" stroke="#444" stroke-width="0.6"/>
<rect x="118" y="163.7" width="6" height="51.5" fill="#000"/>
<line x1="121" y1="163.7" x2="121" y2="159.06" stroke="#333" stroke-width="0.45"/>
<line x1="120.1" y1="159.06" x2="121.9" y2="159.06" stroke="#333" stroke-width="0.45"/>
<rect x="131.6" y="181.21" width="5.6" height="33.99" fill="#000"/>
<line x1="134.4" y1="181.21" x2="134.4" y2="179.66" stroke="#333" stroke-width="0.45"/>
<line x1="133.5" y1="179.66" x2="135.3" y2="179.66" stroke="#333" stroke-width="0.45"/>
<rect x="145" y="175.54" width="6" height="39.66" fill="#000"/>
<line x1="148" y1="175.54" x2="148" y2="173.48" stroke="#333" stroke-width="0.45"/>
<line x1="147.1" y1="173.48" x2="148.9" y2="173.48" stroke="#333" stroke-width="0.45"/>
<rect x="158.1" y="198.2" width="6.1" height="17" fill="#000"/>
<line x1="161.15" y1="198.2" x2="161.15" y2="194.6" stroke="#333" stroke-width="0.45"/>
<line x1="160.25" y1="194.6" x2="162.05" y2="194.6" stroke="#333" stroke-width="0.45"/>
<text x="100.96" y="183" font-size="4.9" text-anchor="middle" font-weight="bold" fill="#000" transform="rotate(-90 100.96 183)" style="stroke-width:.08px">% Cells migrated</text>
<text x="121" y="222.6" font-size="6" text-anchor="middle" font-weight="bold" fill="#000">BSA</text>
<text x="134.3" y="222.6" font-size="6" text-anchor="middle" font-weight="bold" fill="#000">CT</text>
<text x="148" y="222.6" font-size="6" text-anchor="middle" font-weight="bold" fill="#000">BSA</text>
<text x="162.3" y="222.6" font-size="6" text-anchor="middle" font-weight="bold" fill="#000">CT</text>
<line x1="118.7" y1="226.5" x2="137.1" y2="226.5" stroke="#444" stroke-width="0.9"/>
<line x1="144.6" y1="226.5" x2="164.2" y2="226.5" stroke="#444" stroke-width="0.9"/>
<text x="128.3" y="232.1" font-size="6" text-anchor="middle" font-weight="bold" fill="#000">LN229/</text>
<text x="128.3" y="239.6" font-size="6" text-anchor="middle" font-weight="bold" fill="#000">VC</text>
<text x="154.1" y="232.1" font-size="6" text-anchor="middle" font-weight="bold" fill="#000">LN229/</text>
<text x="154.1" y="239.6" font-size="6" text-anchor="middle" font-weight="bold" fill="#000">CALCR</text>
<path d="M120.6 151.8V147.1H134.4V157.2" fill="none" stroke="#555" stroke-width="0.55"/>
<text x="128.8" y="147.51" font-size="5.6" text-anchor="middle" font-weight="bold" fill="#000" style="stroke-width:.12px;letter-spacing:.4px">**</text>
<path d="M134.4 157.2V150.5H161V155.2" fill="none" stroke="#555" stroke-width="0.55"/>
<text x="146.3" y="150.61" font-size="5.6" text-anchor="middle" font-weight="bold" fill="#000" style="stroke-width:.12px;letter-spacing:.4px">*</text>
<path d="M147.5 168V159.6H161V168" fill="none" stroke="#555" stroke-width="0.55"/>
<text x="155.8" y="159.61" font-size="5.6" text-anchor="middle" font-weight="bold" fill="#000" style="stroke-width:.12px;letter-spacing:.4px">**</text>
<rect x="194" y="152.7" width="35.5" height="30.6" filter="url(#ee0)"/>
<rect x="194" y="152.7" width="35.5" height="30.6" fill="none" stroke="#555" stroke-width="0.8"/>
<rect x="231.1" y="152.7" width="35.5" height="30.6" filter="url(#ee1)"/>
<rect x="231.1" y="152.7" width="35.5" height="30.6" fill="none" stroke="#555" stroke-width="0.8"/>
<rect x="194" y="185.2" width="35.5" height="30.6" filter="url(#ee2)"/>
<rect x="194" y="185.2" width="35.5" height="30.6" fill="none" stroke="#555" stroke-width="0.8"/>
<rect x="231.1" y="185.2" width="35.5" height="30.6" filter="url(#ee3)"/>
<rect x="231.1" y="185.2" width="35.5" height="30.6" fill="none" stroke="#555" stroke-width="0.8"/>
<text x="184.59" y="168.2" font-size="5.8" text-anchor="middle" font-weight="bold" fill="#000" transform="rotate(-90 184.59 168.2)">LN229/</text>
<text x="191.79" y="168.6" font-size="5.8" text-anchor="middle" font-weight="bold" fill="#000" transform="rotate(-90 191.79 168.6)">VC</text>
<text x="184.19" y="199.8" font-size="5.8" text-anchor="middle" font-weight="bold" fill="#000" transform="rotate(-90 184.19 199.8)">LN229/</text>
<text x="191.29" y="200" font-size="5.8" text-anchor="middle" font-weight="bold" fill="#000" transform="rotate(-90 191.29 200)">CALCR</text>
<line x1="291" y1="154.2" x2="291" y2="214.2" stroke="#444" stroke-width="0.6"/>
<line x1="289.7" y1="214.2" x2="291" y2="214.2" stroke="#444" stroke-width="0.6"/>
<text x="288.5" y="216.07" font-size="5.2" text-anchor="end" font-weight="bold" fill="#000">0</text>
<line x1="289.7" y1="204.2" x2="291" y2="204.2" stroke="#444" stroke-width="0.6"/>
<text x="288.5" y="206.07" font-size="5.2" text-anchor="end" font-weight="bold" fill="#000">20</text>
<line x1="289.7" y1="194.2" x2="291" y2="194.2" stroke="#444" stroke-width="0.6"/>
<text x="288.5" y="196.07" font-size="5.2" text-anchor="end" font-weight="bold" fill="#000">40</text>
<line x1="289.7" y1="184.2" x2="291" y2="184.2" stroke="#444" stroke-width="0.6"/>
<text x="288.5" y="186.07" font-size="5.2" text-anchor="end" font-weight="bold" fill="#000">60</text>
<line x1="289.7" y1="174.2" x2="291" y2="174.2" stroke="#444" stroke-width="0.6"/>
<text x="288.5" y="176.07" font-size="5.2" text-anchor="end" font-weight="bold" fill="#000">80</text>
<line x1="289.7" y1="164.2" x2="291" y2="164.2" stroke="#444" stroke-width="0.6"/>
<text x="288.5" y="166.07" font-size="5.2" text-anchor="end" font-weight="bold" fill="#000">100</text>
<line x1="289.7" y1="154.2" x2="291" y2="154.2" stroke="#444" stroke-width="0.6"/>
<text x="288.5" y="156.07" font-size="5.2" text-anchor="end" font-weight="bold" fill="#000">120</text>
<line x1="291" y1="214.2" x2="346" y2="214.2" stroke="#444" stroke-width="0.6"/>
<rect x="295.2" y="163.2" width="5.8" height="51" fill="#000"/>
<line x1="298.1" y1="163.2" x2="298.1" y2="162.7" stroke="#333" stroke-width="0.45"/>
<line x1="297.2" y1="162.7" x2="299" y2="162.7" stroke="#333" stroke-width="0.45"/>
<rect x="309" y="180.2" width="6" height="34" fill="#000"/>
<line x1="312" y1="180.2" x2="312" y2="178.95" stroke="#333" stroke-width="0.45"/>
<line x1="311.1" y1="178.95" x2="312.9" y2="178.95" stroke="#333" stroke-width="0.45"/>
<rect x="323.2" y="199.7" width="5.3" height="14.5" fill="#000"/>
<line x1="325.85" y1="199.7" x2="325.85" y2="199.2" stroke="#333" stroke-width="0.45"/>
<line x1="324.95" y1="199.2" x2="326.75" y2="199.2" stroke="#333" stroke-width="0.45"/>
<rect x="336.6" y="209.7" width="5.7" height="4.5" fill="#000"/>
<line x1="339.45" y1="209.7" x2="339.45" y2="208.2" stroke="#333" stroke-width="0.45"/>
<line x1="338.55" y1="208.2" x2="340.35" y2="208.2" stroke="#333" stroke-width="0.45"/>
<text x="279.06" y="184.3" font-size="4.9" text-anchor="middle" font-weight="bold" fill="#000" transform="rotate(-90 279.06 184.3)" style="stroke-width:.08px">% Cells  invaded</text>
<text x="298.9" y="222.3" font-size="6" text-anchor="middle" font-weight="bold" fill="#000">BSA</text>
<text x="313.4" y="222.3" font-size="6" text-anchor="middle" font-weight="bold" fill="#000">CT</text>
<text x="327.8" y="222.3" font-size="6" text-anchor="middle" font-weight="bold" fill="#000">BSA</text>
<text x="341.5" y="222.3" font-size="6" text-anchor="middle" font-weight="bold" fill="#000">CT</text>
<line x1="295.8" y1="226.5" x2="314.2" y2="226.5" stroke="#444" stroke-width="0.9"/>
<line x1="324" y1="226.5" x2="342.5" y2="226.5" stroke="#444" stroke-width="0.9"/>
<text x="305" y="231.8" font-size="6" text-anchor="middle" font-weight="bold" fill="#000">LN229/</text>
<text x="305" y="239.3" font-size="6" text-anchor="middle" font-weight="bold" fill="#000">VC</text>
<text x="333.2" y="231.8" font-size="6" text-anchor="middle" font-weight="bold" fill="#000">LN229/</text>
<text x="333.2" y="239.3" font-size="6" text-anchor="middle" font-weight="bold" fill="#000">CALCR</text>
<path d="M298.1 158.8V150.8H312.1V155" fill="none" stroke="#555" stroke-width="0.55"/>
<text x="305.1" y="151.01" font-size="5.6" text-anchor="middle" font-weight="bold" fill="#000" style="stroke-width:.12px;letter-spacing:.4px">**</text>
<path d="M312.1 155V154.4H339.2V161.6" fill="none" stroke="#555" stroke-width="0.55"/>
<text x="325.7" y="153.61" font-size="5.6" text-anchor="middle" font-weight="bold" fill="#000" style="stroke-width:.12px;letter-spacing:.4px">***</text>
<path d="M325.6 194.5V189.4H340.6V197.7" fill="none" stroke="#555" stroke-width="0.55"/>
<text x="333.6" y="188.91" font-size="5.6" text-anchor="middle" font-weight="bold" fill="#000" style="stroke-width:.12px;letter-spacing:.4px">**</text>
<rect x="368.6" y="183" width="74.6" height="4" fill="#9a9a9a"/>
<rect x="369.1" y="153.8" width="35.6" height="30.2" filter="url(#ff0)"/>
<circle cx="378.12" cy="159.82" r="0.69" fill="rgb(82,82,82)"/>
<circle cx="399.82" cy="163.01" r="0.69" fill="rgb(113,113,113)"/>
<circle cx="398.37" cy="176.06" r="0.57" fill="rgb(89,89,89)"/>
<circle cx="378.72" cy="182.44" r="0.34" fill="rgb(139,139,139)"/>
<circle cx="401.53" cy="182.14" r="0.34" fill="rgb(96,96,96)"/>
<circle cx="378.99" cy="174.1" r="0.57" fill="rgb(61,61,61)"/>
<circle cx="374.51" cy="171.29" r="1.15" fill="rgb(47,47,47)"/>
<circle cx="379.79" cy="175.29" r="0.69" fill="rgb(150,150,150)"/>
<circle cx="382.34" cy="168.23" r="0.4" fill="rgb(132,132,132)"/>
<circle cx="371.2" cy="157.98" r="1.03" fill="rgb(125,125,125)"/>
<circle cx="399.97" cy="160.13" r="0.46" fill="rgb(128,128,128)"/>
<circle cx="377.95" cy="156.01" r="0.57" fill="rgb(80,80,80)"/>
<circle cx="384.78" cy="176.97" r="1.15" fill="rgb(63,63,63)"/>
<circle cx="383.62" cy="158.2" r="0.34" fill="rgb(78,78,78)"/>
<circle cx="371.3" cy="173.16" r="0.4" fill="rgb(92,92,92)"/>
<circle cx="371.31" cy="158.97" r="0.69" fill="rgb(69,69,69)"/>
<circle cx="383.7" cy="169.78" r="0.8" fill="rgb(133,133,133)"/>
<circle cx="371.52" cy="155.69" r="0.57" fill="rgb(109,109,109)"/>
<circle cx="376.35" cy="177.25" r="0.8" fill="rgb(81,81,81)"/>
<circle cx="398.72" cy="179.09" r="0.34" fill="rgb(132,132,132)"/>
<circle cx="393.59" cy="179.64" r="0.4" fill="rgb(124,124,124)"/>
<circle cx="393.74" cy="157.62" r="0.69" fill="rgb(123,123,123)"/>
<circle cx="390.2" cy="158.01" r="1.03" fill="rgb(93,93,93)"/>
<circle cx="384.86" cy="175.25" r="0.52" fill="rgb(68,68,68)"/>
<circle cx="385.27" cy="181.62" r="0.69" fill="rgb(140,140,140)"/>
<circle cx="377.5" cy="173.96" r="0.57" fill="rgb(109,109,109)"/>
<circle cx="399.86" cy="164.16" r="0.57" fill="rgb(88,88,88)"/>
<circle cx="396.28" cy="163.32" r="1.15" fill="rgb(88,88,88)"/>
<circle cx="373.23" cy="170.32" r="0.8" fill="rgb(133,133,133)"/>
<circle cx="377.95" cy="168.05" r="0.52" fill="rgb(43,43,43)"/>
<circle cx="402.8" cy="170.2" r="0.52" fill="rgb(48,48,48)"/>
<circle cx="386.66" cy="158.62" r="1.15" fill="rgb(59,59,59)"/>
<circle cx="394.12" cy="177.67" r="0.69" fill="rgb(126,126,126)"/>
<circle cx="394.72" cy="160.55" r="0.8" fill="rgb(116,116,116)"/>
<circle cx="402.24" cy="179.61" r="0.8" fill="rgb(90,90,90)"/>
<circle cx="376.42" cy="174.57" r="0.57" fill="rgb(43,43,43)"/>
<circle cx="375.59" cy="169.4" r="0.46" fill="rgb(121,121,121)"/>
<circle cx="394.32" cy="176.62" r="0.46" fill="rgb(92,92,92)"/>
<circle cx="387.22" cy="171.49" r="0.4" fill="rgb(45,45,45)"/>
<circle cx="392.82" cy="180.38" r="0.57" fill="rgb(67,67,67)"/>
<circle cx="375.55" cy="178.53" r="0.57" fill="rgb(76,76,76)"/>
<circle cx="397.64" cy="178.93" r="1.15" fill="rgb(69,69,69)"/>
<circle cx="389.75" cy="163.55" r="0.57" fill="rgb(119,119,119)"/>
<circle cx="398.34" cy="157.95" r="0.8" fill="rgb(128,128,128)"/>
<circle cx="384.98" cy="168.46" r="0.8" fill="rgb(116,116,116)"/>
<circle cx="372.95" cy="168.77" r="0.8" fill="rgb(77,77,77)"/>
<circle cx="382.83" cy="171.91" r="1.15" fill="rgb(145,145,145)"/>
<circle cx="395.28" cy="172.45" r="1.03" fill="rgb(43,43,43)"/>
<circle cx="386.85" cy="180.28" r="0.69" fill="rgb(142,142,142)"/>
<circle cx="384.54" cy="155.74" r="1.15" fill="rgb(62,62,62)"/>
<circle cx="390.67" cy="166.2" r="0.46" fill="rgb(151,151,151)"/>
<circle cx="389.84" cy="165.5" r="0.34" fill="rgb(123,123,123)"/>
<circle cx="398.28" cy="172.22" r="0.52" fill="rgb(145,145,145)"/>
<circle cx="387.73" cy="162" r="1.03" fill="rgb(138,138,138)"/>
<circle cx="387.78" cy="171.25" r="0.46" fill="rgb(45,45,45)"/>
<circle cx="372.68" cy="169.93" r="0.46" fill="rgb(102,102,102)"/>
<circle cx="382.64" cy="162.82" r="0.34" fill="rgb(64,64,64)"/>
<circle cx="392.07" cy="180.74" r="0.4" fill="rgb(136,136,136)"/>
<circle cx="393.87" cy="158.19" r="0.8" fill="rgb(42,42,42)"/>
<circle cx="372.78" cy="178.02" r="0.69" fill="rgb(143,143,143)"/>
<circle cx="384.9" cy="174.82" r="0.57" fill="rgb(125,125,125)"/>
<circle cx="376.44" cy="157.25" r="1.03" fill="rgb(141,141,141)"/>
<circle cx="375.83" cy="167.74" r="0.69" fill="rgb(84,84,84)"/>
<circle cx="400.41" cy="157.08" r="0.57" fill="rgb(60,60,60)"/>
<circle cx="380.64" cy="180.42" r="0.34" fill="rgb(80,80,80)"/>
<circle cx="371.11" cy="156.73" r="0.57" fill="rgb(147,147,147)"/>
<circle cx="399.24" cy="174.12" r="0.69" fill="rgb(145,145,145)"/>
<circle cx="375.47" cy="174.88" r="0.34" fill="rgb(157,157,157)"/>
<circle cx="401.06" cy="162.75" r="1.03" fill="rgb(148,148,148)"/>
<circle cx="399.93" cy="168.15" r="0.46" fill="rgb(136,136,136)"/>
<circle cx="399.5" cy="168.46" r="1.03" fill="rgb(138,138,138)"/>
<circle cx="392.96" cy="169.78" r="0.57" fill="rgb(125,125,125)"/>
<circle cx="393.16" cy="179.89" r="0.57" fill="rgb(113,113,113)"/>
<circle cx="397.1" cy="175.8" r="0.52" fill="rgb(142,142,142)"/>
<circle cx="376.9" cy="173.39" r="1.03" fill="rgb(46,46,46)"/>
<circle cx="378.78" cy="178.51" r="0.57" fill="rgb(76,76,76)"/>
<circle cx="373.61" cy="178.3" r="0.57" fill="rgb(76,76,76)"/>
<circle cx="375.69" cy="179.14" r="1.15" fill="rgb(79,79,79)"/>
<circle cx="394.03" cy="165.47" r="1.03" fill="rgb(136,136,136)"/>
<circle cx="400.89" cy="166.58" r="0.52" fill="rgb(87,87,87)"/>
<circle cx="391.95" cy="156.33" r="0.8" fill="rgb(93,93,93)"/>
<circle cx="380.26" cy="165.35" r="0.52" fill="rgb(47,47,47)"/>
<circle cx="384.33" cy="157.7" r="0.46" fill="rgb(103,103,103)"/>
<circle cx="401.99" cy="178.62" r="1.15" fill="rgb(111,111,111)"/>
<circle cx="402.6" cy="175.12" r="1.15" fill="rgb(46,46,46)"/>
<circle cx="392.02" cy="170.26" r="0.69" fill="rgb(98,98,98)"/>
<circle cx="395.31" cy="174.25" r="0.4" fill="rgb(144,144,144)"/>
<circle cx="401.48" cy="170.74" r="0.34" fill="rgb(51,51,51)"/>
<circle cx="383.25" cy="179.66" r="0.8" fill="rgb(95,95,95)"/>
<circle cx="396.4" cy="172.81" r="0.46" fill="rgb(119,119,119)"/>
<rect x="369.1" y="153.8" width="35.6" height="30.2" fill="none" stroke="#666" stroke-width="1.1"/>
<rect x="406.8" y="153.8" width="35.6" height="30.2" filter="url(#ff1)"/>
<circle cx="432.47" cy="161.96" r="0.35" fill="rgb(43,43,43)"/>
<circle cx="411.64" cy="175.45" r="0.4" fill="rgb(134,134,134)"/>
<circle cx="427.55" cy="156.16" r="0.9" fill="rgb(51,51,51)"/>
<circle cx="415.88" cy="171.67" r="0.35" fill="rgb(67,67,67)"/>
<circle cx="431.64" cy="174.38" r="0.9" fill="rgb(65,65,65)"/>
<circle cx="422.94" cy="162.87" r="0.6" fill="rgb(68,68,68)"/>
<circle cx="434.57" cy="174.29" r="0.3" fill="rgb(137,137,137)"/>
<circle cx="413.37" cy="181.34" r="0.5" fill="rgb(75,75,75)"/>
<circle cx="411.32" cy="157.93" r="0.5" fill="rgb(53,53,53)"/>
<circle cx="416.92" cy="156.48" r="0.5" fill="rgb(117,117,117)"/>
<circle cx="412.37" cy="180.39" r="0.7" fill="rgb(108,108,108)"/>
<circle cx="417.86" cy="172.4" r="0.35" fill="rgb(110,110,110)"/>
<circle cx="414.57" cy="157.19" r="0.5" fill="rgb(113,113,113)"/>
<circle cx="417.73" cy="157.47" r="0.45" fill="rgb(138,138,138)"/>
<circle cx="411.59" cy="162.86" r="0.45" fill="rgb(150,150,150)"/>
<circle cx="420.37" cy="161" r="0.5" fill="rgb(60,60,60)"/>
<circle cx="438.83" cy="172.93" r="0.5" fill="rgb(129,129,129)"/>
<circle cx="413.88" cy="175.13" r="1" fill="rgb(121,121,121)"/>
<circle cx="420.67" cy="182.22" r="0.4" fill="rgb(99,99,99)"/>
<circle cx="430.62" cy="178.23" r="0.9" fill="rgb(68,68,68)"/>
<circle cx="435.09" cy="177.2" r="0.3" fill="rgb(69,69,69)"/>
<circle cx="410.46" cy="180.14" r="0.6" fill="rgb(74,74,74)"/>
<circle cx="431.7" cy="161.08" r="1" fill="rgb(152,152,152)"/>
<circle cx="437.14" cy="172.79" r="0.7" fill="rgb(90,90,90)"/>
<circle cx="412.85" cy="175.56" r="0.4" fill="rgb(73,73,73)"/>
<circle cx="432.65" cy="166.95" r="0.9" fill="rgb(73,73,73)"/>
<circle cx="420.1" cy="182.43" r="1" fill="rgb(91,91,91)"/>
<circle cx="424.39" cy="175.86" r="0.4" fill="rgb(105,105,105)"/>
<circle cx="428.75" cy="176.84" r="0.35" fill="rgb(59,59,59)"/>
<circle cx="410.37" cy="165.68" r="0.6" fill="rgb(116,116,116)"/>
<circle cx="416.5" cy="170.35" r="0.7" fill="rgb(107,107,107)"/>
<circle cx="431.8" cy="173.84" r="0.3" fill="rgb(127,127,127)"/>
<circle cx="417" cy="172.73" r="0.9" fill="rgb(136,136,136)"/>
<circle cx="422.47" cy="167.64" r="0.35" fill="rgb(77,77,77)"/>
<circle cx="433.14" cy="169.11" r="0.5" fill="rgb(104,104,104)"/>
<circle cx="428.68" cy="178.19" r="0.35" fill="rgb(151,151,151)"/>
<circle cx="414.78" cy="165.47" r="0.9" fill="rgb(117,117,117)"/>
<circle cx="439.38" cy="180.39" r="0.4" fill="rgb(109,109,109)"/>
<circle cx="418.87" cy="155.83" r="0.3" fill="rgb(116,116,116)"/>
<circle cx="440.42" cy="177.24" r="0.5" fill="rgb(152,152,152)"/>
<circle cx="416.15" cy="170.73" r="0.45" fill="rgb(47,47,47)"/>
<circle cx="432.16" cy="177.5" r="0.35" fill="rgb(50,50,50)"/>
<circle cx="412.4" cy="173.25" r="0.9" fill="rgb(138,138,138)"/>
<circle cx="416.94" cy="179.03" r="0.9" fill="rgb(61,61,61)"/>
<circle cx="438.58" cy="175.84" r="0.6" fill="rgb(67,67,67)"/>
<circle cx="418.46" cy="182.37" r="0.45" fill="rgb(131,131,131)"/>
<circle cx="437.63" cy="167.58" r="0.5" fill="rgb(96,96,96)"/>
<circle cx="410.39" cy="155.87" r="0.45" fill="rgb(68,68,68)"/>
<circle cx="427.48" cy="155.5" r="0.9" fill="rgb(69,69,69)"/>
<circle cx="410.5" cy="156.15" r="0.3" fill="rgb(69,69,69)"/>
<circle cx="425.06" cy="162.87" r="0.5" fill="rgb(49,49,49)"/>
<circle cx="425.88" cy="174.98" r="0.7" fill="rgb(67,67,67)"/>
<circle cx="423.71" cy="176.64" r="1" fill="rgb(113,113,113)"/>
<circle cx="411.38" cy="173.22" r="0.6" fill="rgb(64,64,64)"/>
<circle cx="421.7" cy="178.8" r="0.5" fill="rgb(94,94,94)"/>
<rect x="406.8" y="153.8" width="35.6" height="30.2" fill="none" stroke="#666" stroke-width="1.1"/>
<rect x="369.1" y="185.6" width="35.6" height="30.2" filter="url(#ff2)"/>
<circle cx="393.3" cy="191.01" r="0.3" fill="rgb(76,76,76)"/>
<circle cx="392.5" cy="208.67" r="0.7" fill="rgb(87,87,87)"/>
<circle cx="386.84" cy="187.62" r="0.7" fill="rgb(116,116,116)"/>
<circle cx="382.74" cy="210.28" r="0.6" fill="rgb(113,113,113)"/>
<circle cx="395.22" cy="198.91" r="0.9" fill="rgb(153,153,153)"/>
<circle cx="398.34" cy="209.41" r="0.4" fill="rgb(47,47,47)"/>
<circle cx="373.72" cy="201.04" r="0.6" fill="rgb(59,59,59)"/>
<circle cx="395.78" cy="203.34" r="0.7" fill="rgb(56,56,56)"/>
<circle cx="389.35" cy="197.35" r="0.9" fill="rgb(74,74,74)"/>
<circle cx="372.6" cy="212.72" r="0.3" fill="rgb(114,114,114)"/>
<circle cx="379.57" cy="189.2" r="0.4" fill="rgb(77,77,77)"/>
<circle cx="402.82" cy="209.23" r="1" fill="rgb(53,53,53)"/>
<circle cx="398.14" cy="199.54" r="0.3" fill="rgb(52,52,52)"/>
<circle cx="387.84" cy="206.17" r="0.5" fill="rgb(82,82,82)"/>
<circle cx="398.26" cy="208.34" r="0.4" fill="rgb(56,56,56)"/>
<circle cx="389.88" cy="197.11" r="0.3" fill="rgb(152,152,152)"/>
<circle cx="390.31" cy="213.46" r="0.4" fill="rgb(126,126,126)"/>
<circle cx="374.29" cy="200.56" r="0.9" fill="rgb(124,124,124)"/>
<circle cx="384.75" cy="199.97" r="0.5" fill="rgb(131,131,131)"/>
<circle cx="395.82" cy="196.84" r="0.6" fill="rgb(117,117,117)"/>
<circle cx="392.27" cy="191.29" r="0.35" fill="rgb(151,151,151)"/>
<circle cx="393.1" cy="198.65" r="0.5" fill="rgb(53,53,53)"/>
<circle cx="375.38" cy="189.98" r="1" fill="rgb(44,44,44)"/>
<circle cx="394.55" cy="214.01" r="0.35" fill="rgb(56,56,56)"/>
<circle cx="393.98" cy="200.65" r="0.5" fill="rgb(55,55,55)"/>
<circle cx="381.68" cy="212.95" r="0.7" fill="rgb(147,147,147)"/>
<circle cx="371.69" cy="206.62" r="0.35" fill="rgb(131,131,131)"/>
<circle cx="392.93" cy="202.76" r="0.6" fill="rgb(64,64,64)"/>
<circle cx="389.71" cy="211.92" r="0.5" fill="rgb(116,116,116)"/>
<circle cx="381.91" cy="192.15" r="0.5" fill="rgb(90,90,90)"/>
<circle cx="397.57" cy="206.31" r="0.4" fill="rgb(140,140,140)"/>
<circle cx="378.21" cy="195.26" r="0.3" fill="rgb(125,125,125)"/>
<circle cx="395.92" cy="213.76" r="0.5" fill="rgb(64,64,64)"/>
<circle cx="372.58" cy="200.74" r="0.6" fill="rgb(68,68,68)"/>
<circle cx="371.37" cy="210.52" r="0.35" fill="rgb(43,43,43)"/>
<circle cx="400.42" cy="210.52" r="0.9" fill="rgb(153,153,153)"/>
<circle cx="381.87" cy="193.07" r="0.35" fill="rgb(114,114,114)"/>
<circle cx="383.35" cy="193.88" r="0.7" fill="rgb(137,137,137)"/>
<circle cx="377.76" cy="202.5" r="0.35" fill="rgb(129,129,129)"/>
<circle cx="382.88" cy="189.97" r="0.6" fill="rgb(65,65,65)"/>
<circle cx="374.39" cy="195.6" r="0.4" fill="rgb(88,88,88)"/>
<circle cx="388.23" cy="191.22" r="0.9" fill="rgb(57,57,57)"/>
<circle cx="378.31" cy="189.57" r="0.45" fill="rgb(65,65,65)"/>
<circle cx="401.11" cy="209.87" r="0.7" fill="rgb(129,129,129)"/>
<circle cx="393.53" cy="190.97" r="0.35" fill="rgb(101,101,101)"/>
<rect x="369.1" y="185.6" width="35.6" height="30.2" fill="none" stroke="#666" stroke-width="1.1"/>
<rect x="406.8" y="185.6" width="35.6" height="30.2" filter="url(#ff3)"/>
<circle cx="425.97" cy="210.55" r="0.6" fill="rgb(106,106,106)"/>
<circle cx="415.64" cy="187.89" r="0.4" fill="rgb(88,88,88)"/>
<circle cx="408.59" cy="191.36" r="0.35" fill="rgb(112,112,112)"/>
<circle cx="440.56" cy="205.96" r="0.9" fill="rgb(128,128,128)"/>
<circle cx="421.5" cy="205.9" r="0.6" fill="rgb(115,115,115)"/>
<circle cx="410.7" cy="209.99" r="0.5" fill="rgb(85,85,85)"/>
<circle cx="411.95" cy="189.01" r="1" fill="rgb(60,60,60)"/>
<circle cx="439.56" cy="190.03" r="0.35" fill="rgb(74,74,74)"/>
<circle cx="419.53" cy="189.71" r="0.5" fill="rgb(44,44,44)"/>
<circle cx="414.51" cy="190.64" r="0.7" fill="rgb(157,157,157)"/>
<rect x="406.8" y="185.6" width="35.6" height="30.2" fill="none" stroke="#666" stroke-width="1.1"/>
<circle cx="394.5" cy="164.6" r="1.6" fill="#555"/>
<circle cx="431.5" cy="163.5" r="1.2" fill="#666"/>
<text x="359.49" y="168.6" font-size="5.8" text-anchor="middle" font-weight="bold" fill="#000" transform="rotate(-90 359.49 168.6)">LN229/</text>
<text x="366.39" y="169" font-size="5.8" text-anchor="middle" font-weight="bold" fill="#000" transform="rotate(-90 366.39 169)">VC</text>
<text x="359.89" y="199.9" font-size="5.8" text-anchor="middle" font-weight="bold" fill="#000" transform="rotate(-90 359.89 199.9)">LN229/</text>
<text x="366.39" y="200.5" font-size="5.8" text-anchor="middle" font-weight="bold" fill="#000" transform="rotate(-90 366.39 200.5)">CALCR</text>
<line x1="467.2" y1="155.9" x2="467.2" y2="215.3" stroke="#444" stroke-width="0.6"/>
<line x1="465.9" y1="215.3" x2="467.2" y2="215.3" stroke="#444" stroke-width="0.6"/>
<text x="464.7" y="217.17" font-size="5.2" text-anchor="end" font-weight="bold" fill="#000">0</text>
<line x1="465.9" y1="205.4" x2="467.2" y2="205.4" stroke="#444" stroke-width="0.6"/>
<text x="464.7" y="207.27" font-size="5.2" text-anchor="end" font-weight="bold" fill="#000">20</text>
<line x1="465.9" y1="195.5" x2="467.2" y2="195.5" stroke="#444" stroke-width="0.6"/>
<text x="464.7" y="197.37" font-size="5.2" text-anchor="end" font-weight="bold" fill="#000">40</text>
<line x1="465.9" y1="185.6" x2="467.2" y2="185.6" stroke="#444" stroke-width="0.6"/>
<text x="464.7" y="187.47" font-size="5.2" text-anchor="end" font-weight="bold" fill="#000">60</text>
<line x1="465.9" y1="175.7" x2="467.2" y2="175.7" stroke="#444" stroke-width="0.6"/>
<text x="464.7" y="177.57" font-size="5.2" text-anchor="end" font-weight="bold" fill="#000">80</text>
<line x1="465.9" y1="165.8" x2="467.2" y2="165.8" stroke="#444" stroke-width="0.6"/>
<text x="464.7" y="167.67" font-size="5.2" text-anchor="end" font-weight="bold" fill="#000">100</text>
<line x1="465.9" y1="155.9" x2="467.2" y2="155.9" stroke="#444" stroke-width="0.6"/>
<text x="464.7" y="157.77" font-size="5.2" text-anchor="end" font-weight="bold" fill="#000">120</text>
<line x1="467.2" y1="215.3" x2="517" y2="215.3" stroke="#444" stroke-width="0.6"/>
<rect x="470.9" y="164.31" width="5.9" height="50.98" fill="#000"/>
<line x1="473.85" y1="164.31" x2="473.85" y2="159.37" stroke="#333" stroke-width="0.45"/>
<line x1="472.95" y1="159.37" x2="474.75" y2="159.37" stroke="#333" stroke-width="0.45"/>
<rect x="483.9" y="175.7" width="5.8" height="39.6" fill="#000"/>
<line x1="486.8" y1="175.7" x2="486.8" y2="170.75" stroke="#333" stroke-width="0.45"/>
<line x1="485.9" y1="170.75" x2="487.7" y2="170.75" stroke="#333" stroke-width="0.45"/>
<rect x="496.8" y="179.66" width="5.9" height="35.64" fill="#000"/>
<line x1="499.75" y1="179.66" x2="499.75" y2="178.67" stroke="#333" stroke-width="0.45"/>
<line x1="498.85" y1="178.67" x2="500.65" y2="178.67" stroke="#333" stroke-width="0.45"/>
<rect x="509.9" y="202.43" width="5.6" height="12.87" fill="#000"/>
<line x1="512.7" y1="202.43" x2="512.7" y2="199.96" stroke="#333" stroke-width="0.45"/>
<line x1="511.8" y1="199.96" x2="513.6" y2="199.96" stroke="#333" stroke-width="0.45"/>
<text x="453.97" y="185" font-size="5.2" text-anchor="middle" font-weight="bold" fill="#000" transform="rotate(-90 453.97 185)" style="stroke-width:.08px">% Colonies</text>
<text x="474.6" y="222.4" font-size="6" text-anchor="middle" font-weight="bold" fill="#000">BSA</text>
<text x="487.7" y="222.4" font-size="6" text-anchor="middle" font-weight="bold" fill="#000">CT</text>
<text x="501.6" y="222.4" font-size="6" text-anchor="middle" font-weight="bold" fill="#000">BSA</text>
<text x="513.9" y="222.4" font-size="6" text-anchor="middle" font-weight="bold" fill="#000">CT</text>
<line x1="470.4" y1="225.5" x2="489.3" y2="225.5" stroke="#444" stroke-width="0.9"/>
<line x1="496" y1="225.5" x2="516.1" y2="225.5" stroke="#444" stroke-width="0.9"/>
<text x="479.7" y="232.2" font-size="6" text-anchor="middle" font-weight="bold" fill="#000">LN229/</text>
<text x="479.7" y="239.2" font-size="6" text-anchor="middle" font-weight="bold" fill="#000">VC</text>
<text x="506" y="232.2" font-size="6" text-anchor="middle" font-weight="bold" fill="#000">LN229/</text>
<text x="506" y="239.2" font-size="6" text-anchor="middle" font-weight="bold" fill="#000">CALCR</text>
<path d="M473.4 158V148.3H497V152" fill="none" stroke="#555" stroke-width="0.55"/>
<text x="484.4" y="147.81" font-size="5.6" text-anchor="middle" font-weight="bold" fill="#000" style="stroke-width:.12px;letter-spacing:.4px">*</text>
<path d="M473.4 158V154.2H486.4V159.4" fill="none" stroke="#555" stroke-width="0.55"/>
<text x="480.5" y="154.4" font-size="4.6" text-anchor="middle" font-weight="bold" fill="#000">NS</text>
<path d="M499.4 177.9V169.3H512.6V177.9" fill="none" stroke="#555" stroke-width="0.55"/>
<text x="505.6" y="168.11" font-size="5.6" text-anchor="middle" font-weight="bold" fill="#000" style="stroke-width:.12px;letter-spacing:.4px">***</text>
<text x="40.5" y="271.6" font-size="5.4" text-anchor="middle" font-weight="bold" fill="#000">LN229/</text>
<text x="40.5" y="278.2" font-size="5.4" text-anchor="middle" font-weight="bold" fill="#000">siNT</text>
<text x="68.2" y="271.6" font-size="5.4" text-anchor="middle" font-weight="bold" fill="#000">LN229/</text>
<text x="68.2" y="278.2" font-size="5.4" text-anchor="middle" font-weight="bold" fill="#000">siCALCR</text>
<line x1="26.6" y1="277.1" x2="26.6" y2="341.3" stroke="#444" stroke-width="0.6"/>
<line x1="25.6" y1="277.1" x2="26.6" y2="277.1" stroke="#444" stroke-width="0.6"/>
<text x="24" y="279.15" font-size="5.7" text-anchor="end" font-weight="bold" fill="#000">0.5</text>
<line x1="25.6" y1="287.8" x2="26.6" y2="287.8" stroke="#444" stroke-width="0.6"/>
<text x="24" y="289.85" font-size="5.7" text-anchor="end" font-weight="bold" fill="#000">0.0</text>
<line x1="25.6" y1="298.5" x2="26.6" y2="298.5" stroke="#444" stroke-width="0.6"/>
<text x="24" y="300.55" font-size="5.7" text-anchor="end" font-weight="bold" fill="#000">-0.5</text>
<line x1="25.6" y1="309.2" x2="26.6" y2="309.2" stroke="#444" stroke-width="0.6"/>
<text x="24" y="311.25" font-size="5.7" text-anchor="end" font-weight="bold" fill="#000">-1.0</text>
<line x1="25.6" y1="319.9" x2="26.6" y2="319.9" stroke="#444" stroke-width="0.6"/>
<text x="24" y="321.95" font-size="5.7" text-anchor="end" font-weight="bold" fill="#000">-1.5</text>
<line x1="25.6" y1="330.6" x2="26.6" y2="330.6" stroke="#444" stroke-width="0.6"/>
<text x="24" y="332.65" font-size="5.7" text-anchor="end" font-weight="bold" fill="#000">-2.0</text>
<line x1="25.6" y1="341.3" x2="26.6" y2="341.3" stroke="#444" stroke-width="0.6"/>
<text x="24" y="343.35" font-size="5.7" text-anchor="end" font-weight="bold" fill="#000">-2.5</text>
<line x1="26.6" y1="287.8" x2="81.3" y2="287.8" stroke="#777" stroke-width="0.7"/>
<rect x="62" y="287.8" width="10.6" height="44.51" fill="#000"/>
<line x1="40.5" y1="284.8" x2="40.5" y2="290.8" stroke="#444" stroke-width="0.7"/>
<text x="10.72" y="307.8" font-size="5.9" text-anchor="middle" font-weight="bold" fill="#000" transform="rotate(-90 10.72 307.8)" style="stroke-width:.08px">Log<tspan font-size="3.6" dy="1.2">2</tspan><tspan dy="-1.2"> ratio</tspan></text>
<rect x="29.8" y="344.4" width="51.7" height="13.1" fill="#f4f4f4" stroke="#333" stroke-width="0.8"/>
<rect x="29.8" y="359.3" width="51.7" height="12.2" fill="#f4f4f4" stroke="#333" stroke-width="0.8"/>
<text x="21.8" y="352.6" font-size="5" text-anchor="end" font-weight="bold" fill="#000">CALCR</text>
<text x="21.8" y="366.3" font-size="5" text-anchor="end" font-weight="bold" fill="#000">Actin</text>
<text x="25.6" y="352.4" font-size="5" text-anchor="middle" font-weight="bold" fill="#000" class="ar">→</text>
<text x="25.6" y="366.1" font-size="5" text-anchor="middle" font-weight="bold" fill="#000" class="ar">→</text>
<path d="M34.5 350.4 C34.5 348.6 40 348.9 45 349.2 C50 349.5 54 349.9 54 350.6 C54 351.4 50 351.9 45 352.1 C39 352.3 34.5 352.2 34.5 350.4Z" fill="#080808"/>
<ellipse cx="64" cy="350.6" rx="7.5" ry="1.0" fill="#e2e2e2"/>
<ellipse cx="43.4" cy="364.5" rx="11.2" ry="1.5" fill="#111"/>
<ellipse cx="67.4" cy="364.6" rx="11.2" ry="1.5" fill="#111"/>
<line x1="120.4" y1="278.88" x2="120.4" y2="353.5" stroke="#444" stroke-width="0.6"/>
<line x1="119.6" y1="353.5" x2="120.4" y2="353.5" stroke="#444" stroke-width="0.6"/>
<text x="117.8" y="355.44" font-size="5.4" text-anchor="end" font-weight="bold" fill="#000">0</text>
<line x1="119.6" y1="345.3" x2="120.4" y2="345.3" stroke="#444" stroke-width="0.6"/>
<text x="117.8" y="347.24" font-size="5.4" text-anchor="end" font-weight="bold" fill="#000">1</text>
<line x1="119.6" y1="337.1" x2="120.4" y2="337.1" stroke="#444" stroke-width="0.6"/>
<text x="117.8" y="339.04" font-size="5.4" text-anchor="end" font-weight="bold" fill="#000">2</text>
<line x1="119.6" y1="328.9" x2="120.4" y2="328.9" stroke="#444" stroke-width="0.6"/>
<text x="117.8" y="330.84" font-size="5.4" text-anchor="end" font-weight="bold" fill="#000">3</text>
<line x1="119.6" y1="320.7" x2="120.4" y2="320.7" stroke="#444" stroke-width="0.6"/>
<text x="117.8" y="322.64" font-size="5.4" text-anchor="end" font-weight="bold" fill="#000">4</text>
<line x1="119.6" y1="312.5" x2="120.4" y2="312.5" stroke="#444" stroke-width="0.6"/>
<text x="117.8" y="314.44" font-size="5.4" text-anchor="end" font-weight="bold" fill="#000">5</text>
<line x1="119.6" y1="304.3" x2="120.4" y2="304.3" stroke="#444" stroke-width="0.6"/>
<text x="117.8" y="306.24" font-size="5.4" text-anchor="end" font-weight="bold" fill="#000">6</text>
<line x1="119.6" y1="296.1" x2="120.4" y2="296.1" stroke="#444" stroke-width="0.6"/>
<text x="117.8" y="298.04" font-size="5.4" text-anchor="end" font-weight="bold" fill="#000">7</text>
<line x1="119.6" y1="287.9" x2="120.4" y2="287.9" stroke="#444" stroke-width="0.6"/>
<text x="117.8" y="289.84" font-size="5.4" text-anchor="end" font-weight="bold" fill="#000">8</text>
<line x1="119.6" y1="279.7" x2="120.4" y2="279.7" stroke="#444" stroke-width="0.6"/>
<text x="117.8" y="281.64" font-size="5.4" text-anchor="end" font-weight="bold" fill="#000">9</text>
<line x1="120.4" y1="353.3" x2="203.4" y2="353.3" stroke="#555" stroke-width="0.8"/>
<text x="128.3" y="363.5" font-size="5.4" text-anchor="middle" font-weight="bold" fill="#000">0</text>
<text x="142.12" y="363.5" font-size="5.4" text-anchor="middle" font-weight="bold" fill="#000">1</text>
<text x="155.94" y="363.5" font-size="5.4" text-anchor="middle" font-weight="bold" fill="#000">2</text>
<text x="169.76" y="363.5" font-size="5.4" text-anchor="middle" font-weight="bold" fill="#000">3</text>
<text x="183.58" y="363.5" font-size="5.4" text-anchor="middle" font-weight="bold" fill="#000">4</text>
<text x="197.4" y="363.5" font-size="5.4" text-anchor="middle" font-weight="bold" fill="#000">5</text>
<text x="116.7" y="363.6" font-size="5.1" text-anchor="end" font-weight="bold" fill="#000">Days</text>
<text x="119.6" y="363.6" font-size="5.8" text-anchor="middle" font-weight="bold" fill="#000" class="ar">→</text>
<text x="110.64" y="311.5" font-size="5.1" text-anchor="middle" font-weight="bold" fill="#000" transform="rotate(-90 110.64 311.5)" style="stroke-width:.08px">No. of proliferating cells (×15,000)</text>
<polyline points="127.3,345.3 141.12,338.33 154.94,326.44 168.76,321.52 182.58,310.45 196.4,298.72" fill="none" stroke="#000" stroke-width="1.25"/>
<path d="M127.3 342.76L129.74 347.06L124.86 347.06Z"/>
<path d="M141.12 335.79L143.56 340.08L138.68 340.08Z"/>
<path d="M154.94 323.9L157.38 328.19L152.5 328.19Z"/>
<path d="M168.76 318.98L171.2 323.27L166.32 323.27Z"/>
<path d="M182.58 307.91L185.02 312.2L180.14 312.2Z"/>
<path d="M196.4 296.19L198.84 300.48L193.96 300.48Z"/>
<polyline points="127.3,345.3 141.12,338.74 154.94,330.95 168.76,328.9 182.58,320.29 196.4,317.75" fill="none" stroke="#000" stroke-width="1.25"/>
<rect x="125.25" y="343.25" width="4.09" height="4.09" fill="#000"/>
<rect x="139.07" y="336.69" width="4.09" height="4.09" fill="#000"/>
<rect x="152.89" y="328.9" width="4.09" height="4.09" fill="#000"/>
<rect x="166.71" y="326.85" width="4.09" height="4.09" fill="#000"/>
<rect x="180.53" y="318.24" width="4.09" height="4.09" fill="#000"/>
<rect x="194.35" y="315.7" width="4.09" height="4.09" fill="#000"/>
<polyline points="127.3,345.3 141.12,337.51 154.94,325.37 168.76,315.53 182.58,302.91 196.4,289.54" fill="none" stroke="#000" stroke-width="1.25"/>
<circle cx="127.3" cy="345.3" r="1.95"/>
<circle cx="141.12" cy="337.51" r="1.95"/>
<circle cx="154.94" cy="325.37" r="1.95"/>
<circle cx="168.76" cy="315.53" r="1.95"/>
<circle cx="182.58" cy="302.91" r="1.95"/>
<circle cx="196.4" cy="289.54" r="1.95"/>
<polyline points="127.3,345.3 141.12,337.51 154.94,325.37 168.76,315.53 182.58,302.91 196.4,289.54" fill="none" stroke="#000" stroke-width="1.25"/>
<path d="M125.16 343.16L129.44 347.44M125.16 347.44L129.44 343.16M125.16 345.3L129.44 345.3" fill="none" stroke="#000" stroke-width="0.95"/>
<path d="M138.97 335.37L143.27 339.65M138.97 339.65L143.27 335.37M138.97 337.51L143.27 337.51" fill="none" stroke="#000" stroke-width="0.95"/>
<path d="M152.79 323.23L157.09 327.52M152.79 327.52L157.09 323.23M152.79 325.37L157.09 325.37" fill="none" stroke="#000" stroke-width="0.95"/>
<path d="M166.61 313.39L170.91 317.68M166.61 317.68L170.91 313.39M166.61 315.53L170.91 315.53" fill="none" stroke="#000" stroke-width="0.95"/>
<path d="M180.43 300.76L184.72 305.05M180.43 305.05L184.72 300.76M180.43 302.91L184.72 302.91" fill="none" stroke="#000" stroke-width="0.95"/>
<path d="M194.25 287.4L198.54 291.69M194.25 291.69L198.54 287.4M194.25 289.54L198.54 289.54" fill="none" stroke="#000" stroke-width="0.95"/>
<line x1="123.9" y1="265.3" x2="131.1" y2="265.3" stroke="#000" stroke-width="1.1"/>
<path d="M127.4 262.57L130.13 265.3L127.4 268.03L124.67 265.3Z"/>
<text x="133.2" y="267.6" font-size="6" text-anchor="start" font-weight="bold" fill="#000">LN229/siNT + BSA</text>
<line x1="123.9" y1="272.58" x2="131.1" y2="272.58" stroke="#000" stroke-width="1.1"/>
<rect x="125.2" y="270.38" width="4.41" height="4.41" fill="#000"/>
<text x="133.2" y="274.88" font-size="6" text-anchor="start" font-weight="bold" fill="#000">LN229/siNT + CT</text>
<line x1="123.9" y1="279.86" x2="131.1" y2="279.86" stroke="#000" stroke-width="1.1"/>
<path d="M125.09 277.55L129.71 282.17M125.09 282.17L129.71 277.55M125.09 279.86L129.71 279.86" fill="none" stroke="#000" stroke-width="0.95"/>
<text x="133.2" y="282.16" font-size="6" text-anchor="start" font-weight="bold" fill="#000">LN229/siCALCR + BSA</text>
<line x1="123.9" y1="287.14" x2="131.1" y2="287.14" stroke="#000" stroke-width="1.1"/>
<path d="M127.4 284.41L130.03 289.03L124.78 289.03Z"/>
<text x="133.2" y="289.44" font-size="6" text-anchor="start" font-weight="bold" fill="#000">LN229/siCALCR + CT</text>
<line x1="229.2" y1="277.6" x2="229.2" y2="346" stroke="#444" stroke-width="0.6"/>
<line x1="227.9" y1="346" x2="229.2" y2="346" stroke="#444" stroke-width="0.6"/>
<text x="226.7" y="347.66" font-size="4.6" text-anchor="end" font-weight="bold" fill="#000">0</text>
<line x1="227.9" y1="334.6" x2="229.2" y2="334.6" stroke="#444" stroke-width="0.6"/>
<text x="226.7" y="336.26" font-size="4.6" text-anchor="end" font-weight="bold" fill="#000">20</text>
<line x1="227.9" y1="323.2" x2="229.2" y2="323.2" stroke="#444" stroke-width="0.6"/>
<text x="226.7" y="324.86" font-size="4.6" text-anchor="end" font-weight="bold" fill="#000">40</text>
<line x1="227.9" y1="311.8" x2="229.2" y2="311.8" stroke="#444" stroke-width="0.6"/>
<text x="226.7" y="313.46" font-size="4.6" text-anchor="end" font-weight="bold" fill="#000">60</text>
<line x1="227.9" y1="300.4" x2="229.2" y2="300.4" stroke="#444" stroke-width="0.6"/>
<text x="226.7" y="302.06" font-size="4.6" text-anchor="end" font-weight="bold" fill="#000">80</text>
<line x1="227.9" y1="289" x2="229.2" y2="289" stroke="#444" stroke-width="0.6"/>
<text x="226.7" y="290.66" font-size="4.6" text-anchor="end" font-weight="bold" fill="#000">100</text>
<line x1="227.9" y1="277.6" x2="229.2" y2="277.6" stroke="#444" stroke-width="0.6"/>
<text x="226.7" y="279.26" font-size="4.6" text-anchor="end" font-weight="bold" fill="#000">120</text>
<line x1="229.2" y1="346" x2="295.8" y2="346" stroke="#444" stroke-width="0.6"/>
<rect x="233.8" y="289" width="7" height="57" fill="#000"/>
<line x1="237.3" y1="289" x2="237.3" y2="287.86" stroke="#333" stroke-width="0.45"/>
<line x1="236.4" y1="287.86" x2="238.2" y2="287.86" stroke="#333" stroke-width="0.45"/>
<rect x="250.3" y="313.51" width="6.6" height="32.49" fill="#000"/>
<line x1="253.6" y1="313.51" x2="253.6" y2="311.8" stroke="#333" stroke-width="0.45"/>
<line x1="252.7" y1="311.8" x2="254.5" y2="311.8" stroke="#333" stroke-width="0.45"/>
<rect x="266.9" y="289" width="6.9" height="57" fill="#000"/>
<line x1="270.35" y1="289" x2="270.35" y2="287.86" stroke="#333" stroke-width="0.45"/>
<line x1="269.45" y1="287.86" x2="271.25" y2="287.86" stroke="#333" stroke-width="0.45"/>
<rect x="283.2" y="297.55" width="6.8" height="48.45" fill="#000"/>
<line x1="286.6" y1="297.55" x2="286.6" y2="295.84" stroke="#333" stroke-width="0.45"/>
<line x1="285.7" y1="295.84" x2="287.5" y2="295.84" stroke="#333" stroke-width="0.45"/>
<text x="261.5" y="274.5" font-size="6" text-anchor="middle" font-weight="bold" fill="#000">Day 5</text>
<path d="M252.3 286.5V281.2H286.9V286.5" fill="none" stroke="#555" stroke-width="0.55"/>
<text x="270.5" y="280.51" font-size="5.6" text-anchor="middle" font-weight="bold" fill="#000" style="stroke-width:.12px;letter-spacing:.4px">**</text>
<text x="214.06" y="307.8" font-size="4.9" text-anchor="middle" font-weight="bold" fill="#000" transform="rotate(-90 214.06 307.8)" style="stroke-width:.08px">% Proliferating cells</text>
<text x="238.1" y="352.1" font-size="6" text-anchor="middle" font-weight="bold" fill="#000">BSA</text>
<text x="253.9" y="352.1" font-size="6" text-anchor="middle" font-weight="bold" fill="#000">CT</text>
<text x="271.7" y="352.1" font-size="6" text-anchor="middle" font-weight="bold" fill="#000">BSA</text>
<text x="287.6" y="352.1" font-size="6" text-anchor="middle" font-weight="bold" fill="#000">CT</text>
<line x1="234" y1="354.5" x2="256.9" y2="354.5" stroke="#444" stroke-width="0.9"/>
<line x1="264.3" y1="354.5" x2="291.3" y2="354.5" stroke="#444" stroke-width="0.9"/>
<text x="245.1" y="362.5" font-size="6" text-anchor="middle" font-weight="bold" fill="#000">LN229/</text>
<text x="245.1" y="370" font-size="6" text-anchor="middle" font-weight="bold" fill="#000">siNT</text>
<text x="278.5" y="362.5" font-size="6" text-anchor="middle" font-weight="bold" fill="#000">LN229/</text>
<text x="278.5" y="370" font-size="6" text-anchor="middle" font-weight="bold" fill="#000">siCALCR</text>
<rect x="350.2" y="287.2" width="36.4" height="31.2" filter="url(#ii0)"/>
<rect x="350.2" y="287.2" width="36.4" height="31.2" fill="none" stroke="#444" stroke-width="0.9"/>
<rect x="388.3" y="287.2" width="35.8" height="31.2" filter="url(#ii1)"/>
<rect x="388.3" y="287.2" width="35.8" height="31.2" fill="none" stroke="#444" stroke-width="0.9"/>
<rect x="350.2" y="320.5" width="36.4" height="30.3" filter="url(#ii2)"/>
<rect x="350.2" y="320.5" width="36.4" height="30.3" fill="none" stroke="#444" stroke-width="0.9"/>
<rect x="388.3" y="320.5" width="35.8" height="30.3" filter="url(#ii3)"/>
<rect x="388.3" y="320.5" width="35.8" height="30.3" fill="none" stroke="#444" stroke-width="0.9"/>
<text x="341.35" y="301.9" font-size="5.7" text-anchor="middle" font-weight="bold" fill="#000" transform="rotate(-90 341.35 301.9)">LN229/</text>
<text x="348.55" y="302.4" font-size="5.7" text-anchor="middle" font-weight="bold" fill="#000" transform="rotate(-90 348.55 302.4)">siNT</text>
<text x="341.55" y="336.4" font-size="5.7" text-anchor="middle" font-weight="bold" fill="#000" transform="rotate(-90 341.55 336.4)">LN229/</text>
<text x="348.85" y="337.1" font-size="5.7" text-anchor="middle" font-weight="bold" fill="#000" transform="rotate(-90 348.85 337.1)">siCALCR</text>
<line x1="452.1" y1="278.9" x2="452.1" y2="344.3" stroke="#444" stroke-width="0.6"/>
<line x1="450.8" y1="344.3" x2="452.1" y2="344.3" stroke="#444" stroke-width="0.6"/>
<text x="449.6" y="346.17" font-size="5.2" text-anchor="end" font-weight="bold" fill="#000">0</text>
<line x1="450.8" y1="333.4" x2="452.1" y2="333.4" stroke="#444" stroke-width="0.6"/>
<text x="449.6" y="335.27" font-size="5.2" text-anchor="end" font-weight="bold" fill="#000">20</text>
<line x1="450.8" y1="322.5" x2="452.1" y2="322.5" stroke="#444" stroke-width="0.6"/>
<text x="449.6" y="324.37" font-size="5.2" text-anchor="end" font-weight="bold" fill="#000">40</text>
<line x1="450.8" y1="311.6" x2="452.1" y2="311.6" stroke="#444" stroke-width="0.6"/>
<text x="449.6" y="313.47" font-size="5.2" text-anchor="end" font-weight="bold" fill="#000">60</text>
<line x1="450.8" y1="300.7" x2="452.1" y2="300.7" stroke="#444" stroke-width="0.6"/>
<text x="449.6" y="302.57" font-size="5.2" text-anchor="end" font-weight="bold" fill="#000">80</text>
<line x1="450.8" y1="289.8" x2="452.1" y2="289.8" stroke="#444" stroke-width="0.6"/>
<text x="449.6" y="291.67" font-size="5.2" text-anchor="end" font-weight="bold" fill="#000">100</text>
<line x1="450.8" y1="278.9" x2="452.1" y2="278.9" stroke="#444" stroke-width="0.6"/>
<text x="449.6" y="280.77" font-size="5.2" text-anchor="end" font-weight="bold" fill="#000">120</text>
<line x1="452.1" y1="344.3" x2="505" y2="344.3" stroke="#444" stroke-width="0.6"/>
<rect x="456.6" y="289.25" width="5.2" height="55.05" fill="#000"/>
<line x1="459.2" y1="289.25" x2="459.2" y2="287.07" stroke="#333" stroke-width="0.45"/>
<line x1="458.3" y1="287.07" x2="460.1" y2="287.07" stroke="#333" stroke-width="0.45"/>
<rect x="469.5" y="312.69" width="5.5" height="31.61" fill="#000"/>
<line x1="472.25" y1="312.69" x2="472.25" y2="311.06" stroke="#333" stroke-width="0.45"/>
<line x1="471.35" y1="311.06" x2="473.15" y2="311.06" stroke="#333" stroke-width="0.45"/>
<rect x="483.2" y="290.35" width="5.2" height="53.96" fill="#000"/>
<line x1="485.8" y1="290.35" x2="485.8" y2="289.8" stroke="#333" stroke-width="0.45"/>
<line x1="484.9" y1="289.8" x2="486.7" y2="289.8" stroke="#333" stroke-width="0.45"/>
<rect x="496.1" y="295.8" width="5.2" height="48.51" fill="#000"/>
<line x1="498.7" y1="295.8" x2="498.7" y2="293.62" stroke="#333" stroke-width="0.45"/>
<line x1="497.8" y1="293.62" x2="499.6" y2="293.62" stroke="#333" stroke-width="0.45"/>
<text x="440.23" y="315.4" font-size="4.8" text-anchor="middle" font-weight="bold" fill="#000" transform="rotate(-90 440.23 315.4)" style="stroke-width:.08px">% Cells migrated</text>
<text x="460.4" y="352" font-size="6" text-anchor="middle" font-weight="bold" fill="#000">BSA</text>
<text x="473.6" y="352" font-size="6" text-anchor="middle" font-weight="bold" fill="#000">CT</text>
<text x="487.8" y="352" font-size="6" text-anchor="middle" font-weight="bold" fill="#000">BSA</text>
<text x="500.5" y="352" font-size="6" text-anchor="middle" font-weight="bold" fill="#000">CT</text>
<line x1="456.9" y1="353.5" x2="474.8" y2="353.5" stroke="#444" stroke-width="0.9"/>
<line x1="483.5" y1="353.5" x2="503.1" y2="353.5" stroke="#444" stroke-width="0.9"/>
<text x="467.7" y="361.8" font-size="6" text-anchor="middle" font-weight="bold" fill="#000">LN229/</text>
<text x="467.7" y="368.7" font-size="6" text-anchor="middle" font-weight="bold" fill="#000">siNT</text>
<text x="494.2" y="361.8" font-size="6" text-anchor="middle" font-weight="bold" fill="#000">LN229/</text>
<text x="494.2" y="368.7" font-size="6" text-anchor="middle" font-weight="bold" fill="#000">siCALCR</text>
<path d="M471 287.4V275.3H497.6V286.6" fill="none" stroke="#555" stroke-width="0.55"/>
<text x="484.6" y="274.91" font-size="5.6" text-anchor="middle" font-weight="bold" fill="#000" style="stroke-width:.12px;letter-spacing:.4px">*</text>
<text x="138" y="26.6" font-size="5.8" text-anchor="middle" font-weight="bold" fill="#000">BSA</text>
<text x="172.3" y="26.6" font-size="5.8" text-anchor="middle" font-weight="bold" fill="#000">CT</text>
<text x="34" y="153.2" font-size="5.8" text-anchor="middle" font-weight="bold" fill="#000">BSA</text>
<text x="70.4" y="153.2" font-size="5.8" text-anchor="middle" font-weight="bold" fill="#000">CT</text>
<text x="212.1" y="152" font-size="5.8" text-anchor="middle" font-weight="bold" fill="#000">BSA</text>
<text x="249.4" y="152" font-size="5.8" text-anchor="middle" font-weight="bold" fill="#000">CT</text>
<text x="388" y="152.3" font-size="5.8" text-anchor="middle" font-weight="bold" fill="#000">BSA</text>
<text x="425" y="152.3" font-size="5.8" text-anchor="middle" font-weight="bold" fill="#000">CT</text>
<text x="372" y="286.3" font-size="5.8" text-anchor="middle" font-weight="bold" fill="#000">BSA</text>
<text x="407.8" y="286.3" font-size="5.8" text-anchor="middle" font-weight="bold" fill="#000">CT</text>
</svg>
</body></html>
